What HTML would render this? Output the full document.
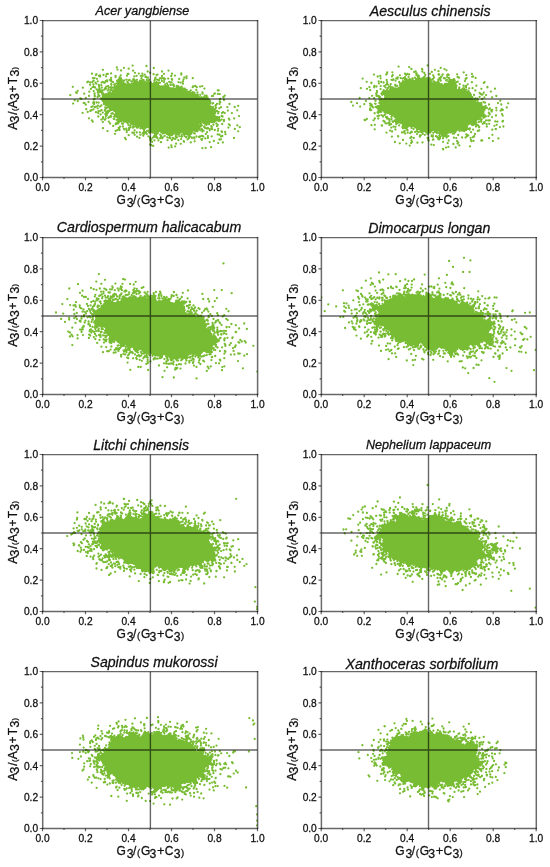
<!DOCTYPE html>
    <html><head><meta charset="utf-8"><title>scatter</title>
    <style>html,body{margin:0;padding:0;background:#fff;width:550px;height:867px;overflow:hidden}
    svg{display:block;font-family:"Liberation Sans",Arial,sans-serif}
    text{stroke:#111;stroke-width:.28px;fill:#111}</style></head>
    <body><svg width="550" height="867" viewBox="0 0 550 867">
    <defs><clipPath id="c0"><rect x="42.50" y="20.50" width="215.00" height="157.00"/></clipPath><clipPath id="c1"><rect x="321.20" y="20.50" width="215.00" height="157.00"/></clipPath><clipPath id="c2"><rect x="42.50" y="237.50" width="215.00" height="157.00"/></clipPath><clipPath id="c3"><rect x="321.20" y="237.50" width="215.00" height="157.00"/></clipPath><clipPath id="c4"><rect x="42.50" y="454.50" width="215.00" height="157.00"/></clipPath><clipPath id="c5"><rect x="321.20" y="454.50" width="215.00" height="157.00"/></clipPath><clipPath id="c6"><rect x="42.50" y="671.50" width="215.00" height="157.00"/></clipPath><clipPath id="c7"><rect x="321.20" y="671.50" width="215.00" height="157.00"/></clipPath></defs>
    <g clip-path="url(#c0)"><path d="M97.5 90.2L98.0 92.5L100.5 92.8L102.0 94.0L101.8 100.2L103.5 102.2L103.5 104.0L109.0 108.0L109.0 109.5L105.8 112.2L104.8 114.5L106.2 115.8L109.8 111.2L112.2 110.2L115.2 112.5L114.0 116.2L117.8 118.5L117.8 121.5L115.5 123.2L116.0 124.2L118.0 124.0L122.0 121.0L124.5 122.2L129.0 122.5L131.0 124.2L134.5 125.2L137.2 128.2L139.5 127.2L143.5 130.0L142.2 133.5L143.5 134.5L146.8 132.2L144.8 131.0L144.8 129.5L146.5 128.0L148.0 128.0L149.5 129.2L149.5 130.8L147.8 132.2L149.8 133.2L151.5 132.5L154.2 134.0L153.5 136.8L154.8 137.8L157.0 136.5L157.2 133.2L159.5 131.8L161.2 132.5L162.5 134.8L165.0 133.5L169.8 136.2L174.8 133.2L178.2 135.2L181.5 133.0L184.5 135.0L187.0 135.0L189.2 137.8L193.0 131.5L197.0 131.8L199.8 128.8L200.2 126.2L199.5 124.0L200.5 123.0L202.5 122.8L206.2 125.2L211.5 122.5L213.2 123.0L216.5 121.0L219.5 121.5L220.5 120.8L219.2 117.5L215.2 115.0L215.8 111.2L215.0 109.2L212.2 108.0L210.2 105.5L210.8 101.2L207.8 98.2L206.8 95.5L205.2 95.2L202.2 97.2L199.8 96.8L197.8 94.2L195.2 93.8L193.8 92.0L191.2 92.2L187.2 91.0L185.2 88.5L181.2 88.0L178.2 85.8L175.2 88.0L171.0 88.2L167.8 85.8L160.2 85.8L158.8 84.5L158.8 83.0L156.8 81.8L152.5 83.2L148.2 81.5L144.0 81.5L141.5 80.0L138.2 81.5L135.5 80.0L132.2 83.5L130.2 84.0L128.2 83.0L126.2 84.0L122.0 81.5L121.5 78.0L120.0 77.2L118.0 79.8L116.8 84.8L113.5 87.2L114.2 90.5L111.0 92.8L109.2 92.0L105.2 94.2L102.5 92.2L102.8 90.2L99.5 89.0Z" fill="#78bc33"/><path transform="scale(.1)" d="M1335 842h0m31 414h0m28 123h0m-345-432h0m392 379h0m264-476h0m-681 139h0m961 273h0m-107-344h0m157 311h0m-1012-233h0m825-109h0m-5-113h0m75 545h0m-812-413h0m755 467h0m-924-378h0m1071 238h0m-1031-150h0m644-302h0m-393 422h0m493-320h0m-425-36h0m-218 59h0m-48 281h0m285-346h0m-242 291h0m871-206h0m-968 46h0m114-38h0m224-119h0m424 76h0m-754 71h0m78-76h0m580-87h0m-586 386h0m50-25h0m85-369h0m492 79h0m278 79h0m-983-136h0m838 537h0m168-380h0m-227 357h0m-620-139h0m441-347h0m97 26h0m-61-81h0m-447 413h0m-117-1h0m983 168h0m-588-75h0m775-162h0m-176-243h0m108 244h0m-212 201h0m-652-529h0m-161 119h0m-149 2h0m743 428h0m-263-29h0m181-501h0m-203-20h0m-337 289h0m873 210h0m-212 49h0m-690-300h0m1100 213h0m-836-470h0m20 27h0m-134 383h0m-142-126h0m964 187h0m-372-428h0m-588 26h0m919 121h0m138 241h0m-1152-197h0m522-196h0m609 439h0m-1045-328h0m403-115h0m-448 393h0m-82-284h0m1048 42h0m-841 135h0m-187-87h0m874 311h0m-757-269h0m752-273h0m-595 410h0m-97-358h0m-8 31h0m211 427h0m-200-425h0m198-54h0m485 12h0m213 434h0m-928-397h0m-54 210h0m617-218h0m-346 382h0m492-357h0m-111-131h0m240 190h0m-47-19h0m-64 487h0m-172-79h0m-350-497h0m294 22h0m-370-60h0m126 472h0m220-474h0m581 236h0m-684-208h0m-438 277h0m101-265h0m861 403h0m-971-205h0m-52-126h0m1108 378h0m-65-71h0m113-89h0m-364-258h0m-430-69h0m740 427h0m-824-436h0m356 528h0m120-462h0m-480-11h0m564 30h0m-141 466h0m-37-18h0m-615-330h0m132 129h0m680 215h0m-322-17h0m285-500h0m196 405h0m-872-312h0m283-138h0m-371 252h0m383 301h0m-412-428h0m70 272h0m223 64h0m-126-8h0m841 157h0m-743-159h0m5-493h0m706 521h0m162-171h0m-544-218h0m167 472h0m-808-449h0m372-99h0m-164 506h0m274-475h0m699 474h0m-1110-352h0m-1 69h0m699-133h0m-137-56h0m516 392h0m-523-354h0m-529 257h0m298 141h0m610-309h0m32 273h0m-1011-347h0m556-82h0m219 61h0m135 479h0m-761-171h0m-68-355h0m506 518h0m-447-71h0m-149-95h0m459 131h0m847-53h0m-775 209h0m-243-226h0m-41 11h0m336-415h0m-328 391h0m422-351h0m511 316h0m-1075-8h0m588-288h0m-596 47h0m614-44h0m-580 208h0m374 234h0m-329-90h0m627-363h0m-155-2h0m-452 307h0m928 102h0m-1178-370h0m200 189h0m-1 0h0m665-224h0m46 17h0m18-111h0m-753 319h0m-197 2h0m1204-142h0m-1117-195h0m925 106h0m-367 484h0m193 33h0m379-317h0m-1114-148h0m165-94h0m324-5h0m-476 110h0m-29-174h0m475-46h0m-229 502h0m402-429h0m649 465h0m41 127h0m-1200-274h0m-108-142h0m986 435h0m266-123h0m-1005-436h0m726 425h0m-1124-448h0m859 569h0m-205-547h0m16-52h0m-636 314h0m355-344h0m18 44h0m-272 300h0m-80-294h0m80 19h0m18 163h0m546-139h0m-722 197h0m1359 113h0m-161 118h0m-518-598h0m-346 606h0m151-20h0m122-606h0m476 715h0m249-164h0m-706-399h0m323 626h0m283-195h0m-649 95h0m19-572h0m377 646h0m-217-652h0m-149 548h0m-42-27h0m749-33h0m-1122-433h0m495 556h0m24-625h0m-661 323h0m1217 19h0m-1238-171h0m587-140h0m-607 45h0m118 134h0m293-119h0m-137 313h0m580 230h0m-699-562h0m-66 19h0m1241 185h0m-102 41h0m-762 266h0m299-1h0m557-289h0m-956 250h0m873-221h0m-1031-206h0m-78 246h0m25 111h0m1150-315h0m-252 18h0m-803 210h0m511-268h0m294-82h0m74 581h0m-309 16h0m-478-583h0m748 103h0m-311-55h0m-322 433h0m-360-489h0m1412 270h0m-194 132h0m-1057-368h0m972 197h0m107 53h0m-1182-102h0m1089 393h0m-891-557h0m375 576h0m-200-575h0m-356 221h0m151 273h0m-183-105h0m1169 235h0m-181-565h0m-768-42h0m522 70h0m-910 138h0m1149 255h0m-927-211h0m275-249h0m229-30h0m453 519h0m-984-289h0m-116-207h0m-15 69h0m593 556h0m-291-740h0m1015 460h0m-953-347h0m949 422h0m-771-419h0m-391-12h0m12-6h0m136-22h0m472 72h0m-628 220h0m633-367h0m-66 103h0m-509 63h0m295-55h0m-209-42h0m-182 280h0m-211-70h0m746 365h0m511-104h0m-1125-153h0m-121-104h0m938 475h0m390-255h0m-1031-320h0m-132 168h0m1078 423h0m125-192h0m47 136h0m-693-682h0m277-7h0m-951 357h0m749 264h0m-206-72h0m503 140h0m-967-402h0m779-285h0m-370-9h0m738 282h0m-1169 193h0m582-476h0m-664 302h0m1306-90h0m-461-153h0m-685 113h0m960 411h0m145-298h0m-920-210h0m-479 150h0m666-154h0m476 543h0m-899-560h0m1252 214h0m-893 264h0m163 80h0m685-222h0m-1198-291h0m631-27h0m-424 72h0m1133 169h0m-752-214h0m631 377h0m46 117h0m-1238-190h0m-35-177h0m1293 47h0m-786-231h0m146 540h0m-371-44h0m-115-417h0m578-30h0m-402 481h0m-262-395h0m974 44h0m-949 193h0m855-238h0m490 369h0m-264-24h0m-399-401h0m396 185h0m-116 223h0m-298 217h0m538-130h0m-279-398h0m-26 357h0m-189 136h0m-673-221h0m-97-352h0m105 61h0m69 238h0m946 309h0m-852-79h0m839-90h0m-1038-143h0m356-353h0m819 168h0m137 128h0m-302 184h0m-94 14h0m-131 60h0m-799-465h0m874 485h0m-765-621h0m-70 301h0m-19 79h0m1040-68h0m-718-336h0m423 655h0m-191-676h0m328 620h0m-798 3h0m1044 57h0m-620-13h0m242-14h0m-348-568h0m580 157h0m299 113h0m-1421-198h0m936 497h0m-609-529h0m1089 344h0m-323 111h0m-918-60h0m636 103h0m-460-516h0m-246 350h0m-18-320h0m1005 403h0m-515 150h0m546-169h0m-386-371h0m100 20h0m414 459h0m-231 69h0m-1017-632h0m418 567h0m-247-548h0m-323 108h0m1231 326h0m-1080-171h0m1147-90h0m-634 326h0m638-20h0m-1090-521h0m36 184h0m50 168h0m-233-173h0m318 296h0m441-451h0m-175 16h0m0-37h0m-465 305h0m443 282h0m527-483h0m-755 357h0m1017-139h0m-926 238h0m29-522h0m620 574h0m-478-55h0m-372-576h0m651 610h0m-434-517h0m662 551h0m-837-449h0m664-75h0m-97 540h0m414-408h0m127 202h0m-393-303h0m-713 275h0m757 172h0m-933-306h0m764 324h0m197-440h0m-895 148h0m90-5h0m685 285h0m17-557h0m-237-13h0m644 430h0m-960-528h0m-83 93h0m637 591h0m260 22h0m-36-94h0m302-159h0m-1148-324h0m337 18h0m-203 449h0m465 100h0m-486-123h0m417 129h0m-615-485h0m238 432h0m-181-138h0m1055-248h0m-480 457h0m-351-73h0m-221-425h0m-138 85h0m483-186h0m230-1h0m424 306h0m49 68h0m-628 167h0m-569-419h0m78 391h0m755-475h0m-896 9h0m154 30h0m810 491h0m-275-43h0m443-366h0m97 278h0m-1006 8h0m893-5h0m-1148-413h0m1267 285h0m-949 125h0m390 187h0m613-62h0m-309-24h0m-549-78h0m-29 11h0m-86 110h0m251-5h0m13 21h0m-386-518h0m414 484h0m588-402h0m-685-142h0m-165 18h0m-149 301h0m-146-24h0m1094 267h0m-1151-162h0m790-427h0m-427 489h0m575-516h0m428 434h0m-762 262h0m741-388h0m-1353-334h0m-43 382h0m291-446h0m279 657h0m12-504h0m379 518h0m-935-235h0m1246-176h0m-1259 26h0m1289-20h0m-291 435h0m-286-27h0m183-525h0m339 400h0m-1089-473h0m968 554h0m-107-384h0m-812 197h0m553-334h0m-524 383h0m1048-88h0m-756-271h0m769 365h0m-1118-284h0m445 497h0m151-521h0m344 506h0m191-465h0m-128 435h0m-567-17h0m-126-564h0m1024 403h0m-1564-32h0m895-333h0m-693 330h0m802-313h0m138 59h0m23 498h0m-1133-391h0m-30-102h0m503-170h0m-281 390h0m572 286h0m-638-440h0m-51 81h0m1283 291h0m-1455-391h0m354 213h0m1094 257h0m-315-476h0m153 46h0m-1099 1h0m871 399h0m156-51h0m149-278h0m-179 301h0m-533-70h0m589-3h0m53-22h0m-30 241h0m-46-526h0m-803-260h0m-397 314h0m1432 355h0m-1099-524h0m499 524h0m-882-497h0m1056-3h0m-723 1h0m1132 331h0m-1045-337h0m1103 459h0m-1305-328h0m386-194h0m-254-58h0m1053 483h0m-1142-370h0m-1-4h0m80 304h0m1127 195h0m-816-71h0m742 16h0m-404-469h0m-172-16h0m-520 199h0m688 447h0m-660-510h0m912 422h0m-540-608h0m-257 77h0m-278 349h0m1483 71h0m-904 19h0m496-405h0m-89 526h0m-333-559h0m-266-97h0m294 635h0m465-66h0m-597-16h0m-96-527h0m142 60h0m-14-46h0m342-32h0m54 152h0m147 73h0m165 229h0m-395 202h0m-723-639h0m149 449h0m51 2h0m767 147h0m-239-21h0m-228-509h0m679 369h0m-393 136h0m-201 24h0m-356-70h0m342-420h0m-476 294h0m429 240h0m-242-603h0m-248 309h0m655-354h0m-487 530h0m-183-349h0m1159 275h0m-60 96h0m-205-385h0m-918 125h0m-57-294h0m485 609h0m-454-81h0m1049 79h0m-360 41h0m-474-106h0m468-535h0m468 372h0m167 156h0m-322-352h0m253 169h0m-1099 119h0m869 53h0m-1005-449h0m713 537h0m-359-42h0m-348-439h0m137 394h0m1061-322h0m-99 249h0m-333-340h0m-821 24h0m434 394h0m201 47h0m-606-388h0m-139 77h0m1318-32h0m-1075-84h0m417 499h0m594 7h0m48-292h0m-1073-302h0m574 66h0m-198 423h0m-539-430h0m67 2h0m290 348h0m586-308h0m-930-175h0m565 634h0m60-550h0m-68 593h0m639-369h0m-891 253h0m-105-161h0m523 334h0m-480-722h0m433-16h0m-145 581h0m-489-175h0m559-393h0m-531 252h0m123 306h0m283 9h0m-329-539h0m1136 350h0m-763-305h0m746 298h0m-504-274h0m-549 349h0m-446-161h0m380-302h0m622 111h0m284 138h0m-783-156h0m-61-15h0m835 423h0m189-218h0m-43 41h0m-813-227h0m361-7h0m-707 134h0m1160 250h0m-58 213h0m-488-104h0m773-4h0m-1051-43h0m734-21h0m47 12h0m-1171-221h0m302 172h0m165-454h0m616 167h0m-1123-77h0m-154 155h0m331 126h0m594 244h0m-302-6h0m-341-669h0m83 104h0m-153-51h0m1275 217h0m55 219h0m-842-440h0m-24-11h0m676 298h0m-666 323h0m638-36h0m-394 22h0m-476-77h0m-241-144h0m327-435h0m149 640h0m-77-517h0m268 563h0m262 9h0m-940-310h0m376-256h0m562 546h0m-908-458h0m46 103h0m-257-78h0m1250 430h0m-5 32h0m10-530h0m-1045 106h0m-40-99h0m1199 228h0m-148 185h0m-37-422h0m-665 493h0m39-696h0m705 328h0" stroke="#78bc33" stroke-width="23.0" stroke-linecap="round" fill="none"/><path d="M150.40 20.50v157.00M42.50 99.00h215.00" stroke="#000" stroke-opacity="0.6" stroke-width="1.4"/></g>
<path d="M42.50 177.50v2.8M42.50 177.50h-2.8M64.00 177.50v1.6M42.50 161.80h-1.6M85.50 177.50v2.8M42.50 146.10h-2.8M107.00 177.50v1.6M42.50 130.40h-1.6M128.50 177.50v2.8M42.50 114.70h-2.8M150.00 177.50v1.6M42.50 99.00h-1.6M171.50 177.50v2.8M42.50 83.30h-2.8M193.00 177.50v1.6M42.50 67.60h-1.6M214.50 177.50v2.8M42.50 51.90h-2.8M236.00 177.50v1.6M42.50 36.20h-1.6M257.50 177.50v2.8M42.50 20.50h-2.8" stroke="#000" stroke-opacity="0.6" stroke-width="1.2" fill="none"/><path d="M42.00 20.60H258.10M42.00 177.50H258.10" stroke="#000" stroke-opacity="0.6" stroke-width="1.3" fill="none"/><path d="M42.70 20.00V178.00M257.60 20.00V178.00" stroke="#000" stroke-opacity="0.58" stroke-width="1.5" fill="none"/><g font-size="10.20" fill="#111" style="stroke-width:.38px"><text x="42.50" y="190.50" text-anchor="middle">0.0</text><text x="38.10" y="181.30" text-anchor="end">0.0</text><text x="85.50" y="190.50" text-anchor="middle">0.2</text><text x="38.10" y="149.90" text-anchor="end">0.2</text><text x="128.50" y="190.50" text-anchor="middle">0.4</text><text x="38.10" y="118.50" text-anchor="end">0.4</text><text x="171.50" y="190.50" text-anchor="middle">0.6</text><text x="38.10" y="87.10" text-anchor="end">0.6</text><text x="214.50" y="190.50" text-anchor="middle">0.8</text><text x="38.10" y="55.70" text-anchor="end">0.8</text><text x="257.50" y="190.50" text-anchor="middle">1.0</text><text x="38.10" y="24.30" text-anchor="end">1.0</text></g>
<text x="95.53" y="14.80" font-style="italic" font-size="12.59" fill="#111">Acer yangbiense</text><text fill="#111"><tspan x="116.50" y="204.40" font-size="12.0">G</tspan><tspan x="126.70" y="206.70" font-size="12.2">3</tspan><tspan x="133.10" y="204.40" font-size="12.0">/</tspan><tspan x="137.00" y="205.00" font-size="9.6">(</tspan><tspan x="141.10" y="204.40" font-size="12.0">G</tspan><tspan x="149.60" y="206.70" font-size="12.2">3</tspan><tspan x="157.10" y="204.40" font-size="12.8">+</tspan><tspan x="164.70" y="204.40" font-size="12.0">C</tspan><tspan x="173.70" y="206.70" font-size="12.2">3</tspan><tspan x="180.90" y="205.00" font-size="9.6">)</tspan></text><text transform="translate(17.20 129.80) rotate(-90)" fill="#111"><tspan x="0.00" y="0.00" font-size="12.0">A</tspan><tspan x="7.40" y="1.70" font-size="12.2">3</tspan><tspan x="15.00" y="0.00" font-size="12.0">/</tspan><tspan x="18.90" y="0.00" font-size="7.5">(</tspan><tspan x="21.60" y="0.00" font-size="12.0">A</tspan><tspan x="29.70" y="1.70" font-size="12.2">3</tspan><tspan x="37.20" y="0.00" font-size="12.0">+</tspan><tspan x="45.50" y="0.00" font-size="12.0">T</tspan><tspan x="53.20" y="1.70" font-size="12.2">3</tspan><tspan x="60.20" y="0.00" font-size="7.5">)</tspan></text>
<g clip-path="url(#c1)"><path d="M376.2 106.8L377.9 109.5L377.2 112.5L378.2 113.2L382.7 111.2L392.2 115.5L394.4 115.5L395.4 116.5L395.4 119.0L393.9 121.0L396.7 123.8L398.9 123.0L401.4 123.8L402.4 124.8L401.9 127.2L403.2 128.5L406.2 129.0L409.2 126.5L411.9 127.2L413.7 126.5L416.9 129.8L419.4 130.2L421.2 132.8L424.2 132.0L427.4 133.8L429.2 133.0L430.4 133.5L432.4 137.2L433.4 135.8L430.7 133.8L431.7 131.2L433.2 130.8L435.9 132.5L438.2 131.5L439.4 132.0L440.9 135.5L437.7 137.8L437.7 139.0L438.9 140.0L441.9 136.5L446.2 136.5L447.9 133.0L452.9 132.2L454.9 133.0L458.7 129.0L464.4 131.5L468.2 129.0L467.4 125.8L469.9 124.0L472.7 125.8L475.2 124.8L476.7 123.2L476.7 121.0L481.9 117.0L483.9 118.0L486.2 116.5L483.9 114.0L483.9 111.5L486.4 107.8L486.2 106.5L482.9 105.8L480.7 102.5L478.7 103.0L476.7 102.2L472.9 98.8L472.9 97.0L471.2 95.2L470.7 93.2L468.9 91.5L466.9 91.0L464.2 88.0L459.4 90.2L456.7 88.5L456.7 85.5L454.2 79.0L450.2 79.2L447.9 83.0L442.9 84.5L439.7 83.2L437.7 81.2L435.4 82.5L432.7 82.5L429.9 78.5L427.4 79.8L423.9 76.8L420.7 78.0L418.2 75.0L416.9 75.8L417.2 78.0L414.2 80.2L409.4 78.8L407.7 79.5L404.4 77.0L403.4 77.8L404.4 80.8L399.4 83.8L399.7 86.5L398.4 87.8L394.4 88.0L391.2 86.8L388.4 90.2L383.4 90.5L380.9 93.8L384.7 95.8L384.4 98.0L382.9 99.2L380.9 99.0L379.2 100.0L379.9 104.2Z" fill="#78bc33"/><path transform="scale(.1)" d="M3816 987h0m112 161h0m187 109h0m364 73h0m-79 8h0m-587-340h0m728 337h0m-692-385h0m394-163h0m-89 475h0m-351-241h0m659-215h0m-46 36h0m-660 196h0m487-309h0m57 71h0m408 158h0m-24-46h0m-705 316h0m-48-342h0m750 404h0m4-367h0m-638-136h0m-94 71h0m-32 295h0m192 107h0m-61 21h0m619 81h0m91-331h0m-197-174h0m276 366h0m-928-30h0m215-402h0m-218 87h0m311 447h0m-414-464h0m709 457h0m-601-442h0m208-85h0m-9 582h0m806-202h0m-1040-325h0m-102 227h0m73-94h0m871 267h0m-711-411h0m114 427h0m51 55h0m-193-426h0m-57 324h0m539 161h0m219-467h0m-733 264h0m187 207h0m298-20h0m400-182h0m-339-346h0m-540 59h0m-166 86h0m81-156h0m9 58h0m671-39h0m-626 46h0m457-69h0m-380 38h0m-177 80h0m624-96h0m-732 212h0m1131 104h0m-892 57h0m591-407h0m-691 172h0m120-202h0m-110 25h0m224-56h0m-288 16h0m92 448h0m695-316h0m-738 253h0m919-111h0m-807 131h0m410-344h0m-562 171h0m88 141h0m1012-29h0m-541-278h0m379 514h0m-481-559h0m-478 281h0m-70-104h0m624-141h0m-524 440h0m950-271h0m-911 186h0m310 169h0m-470-242h0m1135 14h0m-166 170h0m-855-280h0m1031 167h0m-977-47h0m1001-44h0m-115-94h0m-93 316h0m-335-3h0m-302-28h0m-180-150h0m566-349h0m386 416h0m-462-372h0m238 475h0m-548-58h0m204 106h0m-198-526h0m397-67h0m-312 534h0m778-146h0m-230 211h0m-15-441h0m203 160h0m-537 249h0m194 10h0m-751-253h0m370-261h0m549 480h0m-721-401h0m420 418h0m-243-49h0m703-124h0m-836-379h0m1 124h0m487-38h0m231 408h0m-136 103h0m-447-59h0m499-409h0m-532 450h0m563-78h0m-759-367h0m121-60h0m566 47h0m-423 399h0m342-472h0m250 428h0m-799-337h0m-120 101h0m820-97h0m-515 376h0m20 40h0m215-516h0m-397 86h0m574-56h0m-847 218h0m943-254h0m265 183h0m-387 467h0m-643-249h0m586 240h0m414-49h0m-984-540h0m834 520h0m-334-683h0m406 539h0m-46 39h0m-491 69h0m141-474h0m-471 354h0m792 162h0m-308 122h0m270-558h0m-261-150h0m407 439h0m-307 156h0m385-29h0m-827 108h0m431-119h0m-371-623h0m-422 489h0m133-463h0m-119 508h0m1333-215h0m-1480 33h0m1074 285h0m102-99h0m-103 32h0m-693 81h0m241-669h0m126 2h0m16 619h0m602-69h0m-969-368h0m106 499h0m688-113h0m67-103h0m-904 105h0m156 161h0m7-109h0m-280-416h0m853 21h0m-96-25h0m-475 519h0m-409-319h0m932 210h0m-614-27h0m312-509h0m-486 459h0m444-495h0m-513 385h0m698 346h0m-400-665h0m234-85h0m-30 687h0m-238-634h0m571 603h0m4-483h0m167 412h0m-362 79h0m-529-77h0m103-78h0m810-189h0m-900 129h0m1154-93h0m-312-296h0m-389 584h0m-146-573h0m743 313h0m-573 291h0m643-129h0m-1073-40h0m858-234h0m-185-134h0m-734 45h0m928 336h0m69-95h0m-869 103h0m712-296h0m-194 370h0m-759-209h0m1243 99h0m-854-451h0m207 631h0m-337-80h0m177-518h0m257-48h0m138 561h0m-812-414h0m194-52h0m454 520h0m-290-609h0m418 677h0m-817-562h0m46 250h0m431-340h0m418 83h0m230 187h0m-614 335h0m560-359h0m-1210-235h0m773 600h0m100-578h0m-492-27h0m386 54h0m-5 3h0m398 354h0m-53 59h0m-405 102h0m522-326h0m-390 449h0m31-696h0m-17 59h0m181 25h0m-23 442h0m164-378h0m-520-274h0m515 563h0m-1097-346h0m1083 154h0m-908 144h0m338 148h0m535-325h0m-1010 82h0m965 221h0m331-196h0m-168 104h0m-138-435h0m-686 58h0m-288 359h0m-80 5h0m608 152h0m-414-596h0m227 55h0m-168 81h0m408-91h0m-320 65h0m-253 151h0m317-267h0m-222 171h0m1112 167h0m-1035-326h0m556 62h0m-534 74h0m46-5h0m850-62h0m-157 100h0m-53 380h0m-244-556h0m315 200h0m-51 430h0m-553-572h0m360 533h0m487-449h0m-1030-123h0m-227 217h0m392-213h0m-131 445h0m-252-311h0m45 231h0m962 266h0m-567-679h0m352 72h0m-200 532h0m-508-365h0m794-53h0m-23 568h0m-357-120h0m-180-29h0m51-51h0m-296-113h0m55 4h0m568 210h0m-563-165h0m-89-79h0m-138-249h0m135-22h0m200 305h0m-168-204h0m609-154h0m194 10h0m-877 220h0m262-254h0m502-80h0m-296 587h0m20-531h0m510 524h0m-265 84h0m131-72h0m-170-516h0m-332 657h0m52-33h0m-263-446h0m959 249h0m112 91h0m-515-491h0m-514 433h0m-27-117h0m819 121h0m131-297h0m-661-139h0m406 574h0m-147-50h0m-845-299h0m507 295h0m-407-439h0m721 442h0m-325-539h0m781 282h0m-523 293h0m313-642h0m-862 338h0m640-298h0m194 135h0m-315-121h0m303 63h0m181 157h0m-459-202h0m-404 2h0m549 538h0m510-119h0m-1260-386h0m773 574h0m351-576h0m-963 82h0m817-28h0m-953-137h0m1096 328h0m47 130h0m-947 63h0m1025-112h0m-892 140h0m694-33h0m-235-462h0m347 74h0m-1075 96h0m-269 86h0m1206 352h0m-1022-581h0m235 593h0m366-59h0m669 23h0m-833-65h0m-328-373h0m17-35h0m200-132h0m-250 378h0m910 306h0m19-641h0m-235 539h0m-678-578h0m1008 105h0m-1168 312h0m1307 14h0m-995-14h0m-191-249h0m838-53h0m-854 138h0m-28 31h0m31-59h0m595-181h0m654 180h0m-354-196h0m243 427h0m-1099-209h0m966 237h0m-890-430h0m1075 422h0m-765-484h0m395 522h0m439-251h0m-972 228h0m72 97h0m-83 30h0m-247-215h0m923 193h0m203-462h0m-693 405h0m-253-79h0m849-80h0m-589 159h0m-51-523h0m634 142h0m7 465h0m105-290h0m-1156-181h0m53 218h0m138-306h0m508-8h0m361 567h0m-613-52h0m629-426h0m-12 19h0m48-78h0m-1015-20h0m328 473h0m566-417h0m-572-149h0m446 140h0m-314 551h0m364-603h0m109 378h0m-858-420h0m21 370h0m-353-191h0m1302 224h0m-673 220h0m-128-171h0m181-455h0m107-53h0m544 666h0m-1153-287h0m338 193h0m355-519h0m-646 128h0m506 436h0m443-356h0m-598 421h0m-273-286h0m650 181h0m19-503h0m-520-82h0m-214 88h0m492 542h0m-506-419h0m-120 136h0m157 41h0m852 197h0m-535-30h0m-137 29h0m-391-119h0m282 17h0m79-347h0m239 476h0m-394-431h0m260-227h0m476 87h0m332 321h0m-1153-190h0m564 420h0m479-300h0m-1169 14h0m329-182h0m-30 27h0m782 85h0m-872 7h0m447-188h0m-344 16h0m502 36h0m-504 358h0m-62-335h0m28 500h0m796 47h0m-928-600h0m1001 216h0m-394 325h0m382-351h0m-173 279h0m-213 95h0m-550-379h0m1016 61h0m-1189-241h0m639-18h0m460 458h0m-195-515h0m-533 532h0m632-7h0m-14-400h0m-63 586h0m-699-230h0m-67-305h0m-85-46h0m137 312h0m988 56h0m-137-477h0m-924 250h0m564 316h0m201 82h0m-795-326h0m148-363h0m539 621h0m354-151h0m-896 122h0m-124-313h0m767-103h0m399 61h0m-303-88h0m347 235h0m20 49h0m-522 169h0m455-34h0m-797-499h0m-390 287h0m767-288h0m142 563h0m-690-100h0m671-502h0m-956 350h0m513-414h0m124 145h0m16 529h0m396-120h0m-474 157h0m566-318h0m-929 79h0m642-289h0m338 212h0m-901 350h0m780-124h0m66-336h0m-988-99h0m529-162h0m-393 108h0m9 56h0m60-127h0m-158 115h0m357-74h0m-168-119h0m451 164h0m17 58h0m-585-106h0m-97 128h0m553 503h0m-471-531h0m996 404h0m-1138-37h0m76-3h0m-82-431h0m-65 473h0m329 9h0m675-292h0m-974-245h0m779 551h0m-530-530h0m753 239h0m-307-275h0m527 521h0m-1044-387h0m809-27h0m-954 264h0m-151-111h0m212 175h0m40 57h0m439 76h0m-580-393h0m182 287h0m-300-10h0m682 193h0m69-605h0m393 179h0m-73 281h0m-273-466h0m276 98h0m-85 5h0m-671 343h0m913-69h0m-720-425h0m310 629h0m101-72h0m-292 86h0m606-252h0m-739-350h0m739 316h0m-792-303h0m336 704h0m-196-719h0m-472 183h0m152 231h0m-74-328h0m603-170h0m346 582h0m-195 37h0m-1083-290h0m441 275h0m870-305h0m-1010-54h0m-25-102h0m942 462h0m-949-165h0m550-377h0m-85 14h0m494 471h0m-871-6h0m924-197h0m-173 338h0m-880-392h0m193-189h0m118 543h0m-337-84h0m-11-195h0m557 266h0m315 113h0m292-171h0m-701-532h0m-277 495h0m195 33h0m-172 15h0m932-177h0m-999 117h0m1170-124h0m-1030-426h0m822 522h0m37 42h0m-720-446h0m98-68h0m444 65h0m-789 351h0m609-383h0m243 623h0m-401 25h0m44-25h0m607-341h0m-1108-307h0m326 643h0m521-628h0m-875 412h0m732-381h0m449 445h0m-1154-321h0m381-144h0m-415 153h0m90-29h0m-62 452h0m607-554h0m120 530h0m-254 149h0m523-500h0m159 190h0m-1039 221h0" stroke="#78bc33" stroke-width="23.0" stroke-linecap="round" fill="none"/><path d="M428.50 20.50v157.00M321.20 99.00h215.00" stroke="#000" stroke-opacity="0.6" stroke-width="1.4"/></g>
<path d="M321.20 177.50v2.8M321.20 177.50h-2.8M342.70 177.50v1.6M321.20 161.80h-1.6M364.20 177.50v2.8M321.20 146.10h-2.8M385.70 177.50v1.6M321.20 130.40h-1.6M407.20 177.50v2.8M321.20 114.70h-2.8M428.70 177.50v1.6M321.20 99.00h-1.6M450.20 177.50v2.8M321.20 83.30h-2.8M471.70 177.50v1.6M321.20 67.60h-1.6M493.20 177.50v2.8M321.20 51.90h-2.8M514.70 177.50v1.6M321.20 36.20h-1.6M536.20 177.50v2.8M321.20 20.50h-2.8" stroke="#000" stroke-opacity="0.6" stroke-width="1.2" fill="none"/><path d="M320.70 20.60H536.80M320.70 177.50H536.80" stroke="#000" stroke-opacity="0.6" stroke-width="1.3" fill="none"/><path d="M321.40 20.00V178.00M536.30 20.00V178.00" stroke="#000" stroke-opacity="0.58" stroke-width="1.5" fill="none"/><g font-size="10.20" fill="#111" style="stroke-width:.38px"><text x="321.20" y="190.50" text-anchor="middle">0.0</text><text x="316.80" y="181.30" text-anchor="end">0.0</text><text x="364.20" y="190.50" text-anchor="middle">0.2</text><text x="316.80" y="149.90" text-anchor="end">0.2</text><text x="407.20" y="190.50" text-anchor="middle">0.4</text><text x="316.80" y="118.50" text-anchor="end">0.4</text><text x="450.20" y="190.50" text-anchor="middle">0.6</text><text x="316.80" y="87.10" text-anchor="end">0.6</text><text x="493.20" y="190.50" text-anchor="middle">0.8</text><text x="316.80" y="55.70" text-anchor="end">0.8</text><text x="536.20" y="190.50" text-anchor="middle">1.0</text><text x="316.80" y="24.30" text-anchor="end">1.0</text></g>
<text x="369.71" y="15.50" font-style="italic" font-size="14.23" fill="#111">Aesculus chinensis</text><text fill="#111"><tspan x="395.20" y="204.40" font-size="12.0">G</tspan><tspan x="405.40" y="206.70" font-size="12.2">3</tspan><tspan x="411.80" y="204.40" font-size="12.0">/</tspan><tspan x="415.70" y="205.00" font-size="9.6">(</tspan><tspan x="419.80" y="204.40" font-size="12.0">G</tspan><tspan x="428.30" y="206.70" font-size="12.2">3</tspan><tspan x="435.80" y="204.40" font-size="12.8">+</tspan><tspan x="443.40" y="204.40" font-size="12.0">C</tspan><tspan x="452.40" y="206.70" font-size="12.2">3</tspan><tspan x="459.60" y="205.00" font-size="9.6">)</tspan></text><text transform="translate(295.90 129.80) rotate(-90)" fill="#111"><tspan x="0.00" y="0.00" font-size="12.0">A</tspan><tspan x="7.40" y="1.70" font-size="12.2">3</tspan><tspan x="15.00" y="0.00" font-size="12.0">/</tspan><tspan x="18.90" y="0.00" font-size="7.5">(</tspan><tspan x="21.60" y="0.00" font-size="12.0">A</tspan><tspan x="29.70" y="1.70" font-size="12.2">3</tspan><tspan x="37.20" y="0.00" font-size="12.0">+</tspan><tspan x="45.50" y="0.00" font-size="12.0">T</tspan><tspan x="53.20" y="1.70" font-size="12.2">3</tspan><tspan x="60.20" y="0.00" font-size="7.5">)</tspan></text>
<g clip-path="url(#c2)"><path d="M92.8 310.2L95.5 317.2L95.5 319.8L93.8 322.0L95.0 324.0L94.2 327.8L95.5 328.8L99.0 326.5L104.2 327.2L105.2 328.2L104.8 332.2L109.5 336.5L109.0 342.2L111.0 343.2L115.2 340.5L120.2 344.0L120.2 346.5L118.0 348.0L116.0 347.8L116.0 349.5L118.5 350.5L120.5 347.0L123.5 346.8L125.8 344.8L128.0 346.2L128.0 347.8L125.8 349.2L124.8 348.8L123.2 350.8L123.8 351.8L126.2 351.8L128.5 349.0L131.8 347.5L133.2 348.0L134.5 350.8L136.8 352.5L140.2 349.5L145.8 353.8L144.8 356.2L145.8 357.5L147.2 356.8L147.2 354.8L150.0 353.0L155.2 356.2L158.0 355.8L161.2 358.0L163.5 355.0L166.0 354.8L170.2 358.5L170.2 360.0L171.2 360.8L174.2 359.0L176.8 360.2L180.0 358.0L182.2 359.2L184.0 358.5L186.2 359.5L188.0 357.8L188.0 355.5L191.2 353.5L193.8 354.8L196.0 354.5L198.8 357.0L200.8 355.8L200.8 354.0L203.2 351.8L204.5 351.5L207.0 353.0L211.8 352.5L212.5 346.2L219.2 341.0L219.2 340.0L216.2 337.8L215.0 335.5L213.2 335.8L211.0 334.2L210.5 330.5L212.0 329.2L214.5 329.0L213.5 324.8L212.0 325.2L209.8 328.8L207.5 329.0L206.0 327.8L206.8 324.5L205.2 323.0L203.8 317.8L201.5 315.5L196.8 316.8L193.5 314.8L191.2 311.8L188.0 313.8L185.2 312.2L183.5 304.8L186.0 302.0L184.2 300.8L180.8 301.5L176.8 300.0L174.8 302.5L173.0 303.0L170.0 301.2L169.5 298.8L167.0 298.8L164.2 296.8L162.0 300.8L157.5 301.0L154.8 299.0L155.8 296.0L154.0 295.0L150.8 297.0L149.0 296.2L146.0 298.2L140.2 296.5L137.8 298.0L134.2 295.2L134.2 293.8L136.0 292.0L134.2 290.5L133.2 291.2L134.2 295.0L133.0 296.2L126.8 298.0L123.2 296.0L122.2 296.8L122.2 299.8L119.5 301.5L117.8 301.0L115.0 302.8L111.0 300.2L111.0 298.8L114.5 296.5L115.0 294.5L114.0 293.8L107.8 299.8L105.5 299.8L104.2 300.8L104.2 303.2L99.8 308.2L95.8 310.5L93.8 309.5Z" fill="#78bc33"/><path transform="scale(.1)" d="M1212 3438h0m-314-190h0m1283-42h0m-184 353h0m-480-26h0m-69 35h0m-269-151h0m-163-146h0m186-322h0m728 585h0m-978-516h0m989 90h0m-182 477h0m-31 49h0m-595-687h0m552 612h0m-739-346h0m591 381h0m-93-610h0m709 517h0m-536 55h0m299-482h0m124 34h0m-1068 162h0m-118-64h0m755 373h0m390 8h0m-44-461h0m-951 135h0m833-227h0m93 54h0m-52 486h0m209-402h0m-204 369h0m17 36h0m-804-165h0m42-413h0m876 528h0m37-20h0m84-256h0m-337 322h0m312-89h0m-194-347h0m157 60h0m-367 398h0m277-21h0m-482-52h0m-565-379h0m686-160h0m-388 1h0m24-79h0m519 677h0m123-11h0m187-268h0m-145-140h0m-233-126h0m-419 448h0m-32 7h0m-313-386h0m721-106h0m479 357h0m-690-370h0m96 568h0m162-524h0m143 555h0m227-309h0m-389 291h0m-148-568h0m492 561h0m-1089-428h0m165 332h0m871-303h0m140 321h0m3-239h0m39 150h0m-543-385h0m220 116h0m18 22h0m-826 246h0m855-254h0m-480 418h0m-317-164h0m824-267h0m216 357h0m-630 39h0m-10 28h0m-129-33h0m-63-40h0m834 5h0m-870-22h0m-215-154h0m478 235h0m-44-565h0m540 537h0m-952-159h0m1012-116h0m115-7h0m-1284-11h0m156 110h0m1143-81h0m-832-264h0m-331 372h0m1085-89h0m-474 299h0m-94-15h0m-287-82h0m-375-342h0m26-15h0m658-168h0m394 137h0m54 124h0m147 194h0m-1214 29h0m1163-84h0m-1126-310h0m468 540h0m-233-69h0m683-354h0m131 106h0m-131 295h0m-389-597h0m-574 250h0m95 162h0m22-357h0m963 205h0m-158-100h0m-249 425h0m629-272h0m-1204 31h0m152 165h0m628-383h0m-364 517h0m391-456h0m-456 346h0m624-314h0m13 65h0m-447 317h0m523-258h0m-45-9h0m-1038 40h0m923-223h0m-865 255h0m269 153h0m-330-249h0m1059 10h0m-429 307h0m-632-325h0m413 303h0m486 32h0m-839-176h0m78 39h0m1186-135h0m-1414-185h0m631 419h0m487-311h0m-765 228h0m-35 33h0m333 77h0m259-438h0m95 421h0m-815-39h0m-323-339h0m1295 153h0m-689-358h0m359 624h0m-70-6h0m-304-641h0m727 482h0m-1013-425h0m467-3h0m-627 189h0m707-231h0m-310-153h0m939 633h0m-1031 71h0m554-505h0m-982 250h0m1301 231h0m-1160-191h0m997-159h0m173 179h0m-1088 86h0m1048 251h0m-1180-489h0m530-188h0m-403 16h0m1128 393h0m-750 187h0m126 4h0m-21 3h0m682 112h0m-605-148h0m-249-613h0m-33-39h0m698 704h0m-17-442h0m-487 385h0m117 42h0m-488-67h0m809 145h0m-419-87h0m482-19h0m-490-623h0m-390-38h0m234 8h0m356 9h0m-33 69h0m105 655h0m-793-325h0m161-292h0m-338 139h0m1143 3h0m-207-192h0m-1023 76h0m1424 278h0m-1267-35h0m1191 227h0m-503-516h0m575 306h0m-502-310h0m798 288h0m-1138 293h0m794-354h0m-19 44h0m-31-33h0m-176 336h0m-229-7h0m-977-684h0m236 310h0m14-65h0m345 415h0m-161-548h0m951 211h0m-1174-103h0m1381 7h0m-391 513h0m-699-655h0m-110-45h0m-326 243h0m46 49h0m1457-29h0m-1426 71h0m331 142h0m1052-89h0m35 205h0m-429 76h0m-407-56h0m-247-514h0m51-8h0m729 60h0m-82-15h0m242 443h0m-1081 19h0m-105-214h0m-181-168h0m1504 369h0m-512 108h0m-721-556h0m-11 283h0m831 233h0m-482-70h0m-296-197h0m1122 90h0m-1084-402h0m560 549h0m-1044-358h0m518-192h0m778 542h0m253-328h0m-1146 256h0m147 14h0m228 71h0m-447-328h0m1025 312h0m-777-40h0m1154 48h0m-171-267h0m-1298-104h0m78 36h0m364-257h0m-257 354h0m1062-19h0m-985 241h0m243-27h0m484 106h0m-568-77h0m-116-36h0m1177-174h0m-453-207h0m-1087 184h0m1267-181h0m-105 436h0m-442-620h0m-526-15h0m-312 408h0m243-216h0m1261 496h0m-971-150h0m-244-145h0m1169-89h0m-986-256h0m-77 418h0m1153 2h0m-280 161h0m-1120-321h0m110 42h0m479 267h0m44 97h0m253 12h0m259-40h0m-785-174h0m690-416h0m-1092 195h0m1162-29h0m212-27h0m-1331-34h0m600-156h0m721 359h0m188 134h0m-881-537h0m-429 484h0m265 120h0m-135-523h0m982 632h0m-718-95h0m806-98h0m-1123-409h0m635-21h0m-286-63h0m202 644h0m266-501h0m-603-170h0m-195 503h0m-385-354h0m584 425h0m-254 20h0m462-531h0m-345 452h0m-143-425h0m-65 8h0m-5-57h0m476 614h0m298 77h0m199 134h0m-483-84h0m-201-147h0m785-354h0m-601 331h0m-506-253h0m370 188h0m845-167h0m-1220-9h0m-4 51h0m90 86h0m231 150h0m-148-712h0m946 660h0m-651-645h0m-182 568h0m-243-357h0m558-80h0m517 541h0m-1059-232h0m20-257h0m-213 107h0m385 312h0m-241-170h0m740 326h0m-977-186h0m1373-137h0m-885-436h0m71 704h0m503-578h0m-729 320h0m-101-68h0m856 346h0m-428 68h0m-469-578h0m1010 474h0m-1038-353h0m827 390h0m-472-86h0m950 116h0m-916-168h0m1051-90h0m-1457-336h0m387 472h0m511-505h0m-358 514h0m797-210h0m-102 25h0m-1224-276h0m1055-5h0m-467 506h0m533-9h0m-1105-238h0m407 385h0m-260-812h0m862 252h0m-16-60h0m-853-34h0m867 90h0m-46 1h0m-734 281h0m720-403h0m309 547h0m-1429-283h0m53 107h0m1154 246h0m84-64h0m-1246-437h0m185-181h0m291-34h0m-29 20h0m613-6h0m48 56h0m454 497h0m-1431-181h0m541 216h0m-33 154h0m-715-475h0m991 357h0m-714-569h0m242 582h0m262-574h0m-191 506h0m636-405h0m102 84h0m-729 314h0m722-333h0m-1073 162h0m964 216h0m-720-24h0m69 33h0m640 65h0m161-97h0m-434 58h0m167-554h0m-655-64h0m1089 521h0m-102 47h0m0-154h0m-1144-297h0m427-146h0m-143 546h0m-354-295h0m21 95h0m654 288h0m466-2h0m-88 2h0m-929-265h0m871-270h0m485 400h0m-189-199h0m-14-22h0m-54-133h0m-193 546h0m-600-641h0m198-9h0m465 196h0m-1020-103h0m-143 38h0m604-116h0m508 193h0m-579 418h0m-271-166h0m-273-148h0m1336 174h0m-1334-543h0m1242 802h0m-278-67h0m98-587h0m-175-84h0m-38 624h0m-784-249h0m1057-183h0m494 72h0m-1265 248h0m437-523h0m-598 331h0m1127-12h0m-1037 217h0m-34-521h0m-512 150h0m778-221h0m831 77h0m-1068-88h0m1162 195h0m-1073 335h0m986-8h0m-1316-280h0m1086 29h0m265 178h0m-408-354h0m160 185h0m-1225-76h0m164 258h0m63-354h0m974 540h0m-499-22h0m-253-66h0m895-216h0m-205-123h0m-933-59h0m793-96h0m130 625h0m121 40h0m-411-38h0m439-63h0m-1026-172h0m206-327h0m1031 141h0m-639-206h0m-152 561h0m-507-453h0m985 536h0m-821-607h0m984 671h0m124-285h0m-1175-415h0m-5 16h0m120-33h0m578 4h0m453 178h0m-1159-294h0m472 690h0m339-514h0m-681 18h0m201-149h0m321 682h0m-617-301h0m275 257h0m277-605h0m-711 464h0m31-239h0m1483 258h0m-680 194h0m-563-604h0m-425 65h0m974 524h0m481-262h0m-90-45h0m-65-74h0m-963 315h0m176-538h0m-151 381h0m1146 39h0m-403-327h0m474 173h0m-1500-157h0m395-218h0m29 594h0m28-475h0m622 99h0m-536 423h0m-76 120h0m-323-236h0m957-292h0m205 366h0m-1299-144h0m189 49h0m1143-358h0m105 438h0m-1233-164h0m883 285h0m200-429h0m19 429h0m-126-479h0m-383-139h0m-655 194h0m1182 159h0m-424-354h0m528 585h0m-1 46h0m-1304-522h0m916 521h0m303-208h0m-303 262h0m-89-685h0m527 321h0m-95 325h0m-1443-367h0m607 349h0m-385-508h0m402 456h0m605 39h0m-279 12h0m-496-121h0m832 158h0m86-352h0m150-61h0m-228 14h0m-230 368h0m-753-186h0m781-295h0m535 433h0m-74-103h0m-370-273h0m-233 413h0m-1014-394h0m1532 493h0m-578 37h0m-682-892h0m-340 225h0m59 275h0m1489-110h0m-150-79h0m-1181 22h0m1469 397h0m-1351-379h0m873-151h0m-1181 203h0m454-236h0m1254 269h0m-1123-289h0m-290 175h0m895-100h0m59 10h0m558 377h0m-298 39h0m-94-380h0m-7 429h0m96-63h0m-708-526h0m558 716h0m-942-169h0m1055 100h0m-676 0h0m54-602h0m-145 575h0m359 34h0m-829-589h0m1175 295h0m-115 372h0m-380-737h0m570 390h0m-896 232h0m-304-379h0m842 518h0m128-538h0m-856-92h0m236-103h0m345 825h0m-35-117h0m174-705h0m-239 608h0m401 28h0m-1184-404h0m171 143h0m971 222h0m-936-581h0m595 5h0m875 444h0m-654 273h0m-547-818h0m-585 266h0m507-170h0m164 507h0m463 130h0m-877-513h0m1504 337h0m-752-458h0m222 51h0m342 360h0m-812-401h0m387 28h0m-409 551h0m729-233h0m6 217h0m-500-613h0m-313 565h0m135 12h0m-669-484h0m62-65h0m1577 579h0m-1286-106h0m-106-70h0m891-219h0m-257 492h0m-585-259h0m500-414h0m-320 546h0m-286-232h0m1317-1h0m-78 136h0m-220-266h0m197 178h0m-92-226h0m-643-120h0m666 351h0m-1135-149h0m-39 22h0m1170-184h0m-800-91h0m190 610h0m632 67h0m-1334-759h0m1174 335h0m-446-220h0m-339 70h0m-117 236h0m276 268h0m422 165h0m-292-759h0m635 606h0m-1037-569h0m849 562h0m-1104-240h0m1286 388h0m-1141-571h0m1235 235h0m-924-399h0m-334 134h0m279-129h0m902 569h0m-1297-442h0m1242 426h0m-1333-160h0m1607 34h0m-1622-330h0m216 41h0m888 594h0m-906-578h0m2 154h0m846-225h0m405 190h0m102 232h0m-750 156h0m252 64h0m-793-321h0m1417 253h0m-1169-61h0m-274-658h0m1305 440h0m-854-396h0m766 491h0m-1261-260h0m1037 392h0m-1044-326h0m87-231h0m22 397h0m823-429h0m-156 665h0m63-600h0m-163 516h0m-228-587h0m-536 108h0m115-52h0m37 20h0m454-72h0m-731 23h0m1567 317h0m-407-229h0m-583-283h0m420 777h0m15-583h0m339-51h0m-564 25h0m-65 600h0m-364-210h0m812-251h0m-845-218h0m-114 358h0m-44-273h0m839 633h0m595-225h0m-1315-117h0m82-3h0m760 313h0m-654-72h0m800-359h0m-365-157h0m768 486h0m-318-479h0m20 102h0m-889 401h0m-43-467h0m-169 205h0m812 361h0m112-478h0m516 170h0m-1692 81h0m694-452h0m851 750h0m-1266-559h0m37 151h0m-289 108h0m102-69h0m-53 57h0m963 424h0m-427-799h0m-267 36h0m627 661h0m-715-427h0m-187-56h0m826-208h0m668 359h0m-1466-288h0m583 437h0m-511-451h0m1306 436h0m-631 107h0m899-25h0m-1111-86h0m911-319h0m204 259h0m-312-221h0m-6 179h0m-334-372h0m-580 21h0m984 493h0m-1195-498h0m1078 506h0m-1144-148h0m1187-114h0m-433-254h0m-744 126h0m1311 181h0m-546 324h0m-237-18h0m611-456h0m149 175h0m-1303-326h0m464 589h0m816-251h0m-487 248h0m148-534h0m-210 554h0m454-456h0m-820 345h0m784-514h0m-1029 369h0m827-455h0m-970-25h0m78 408h0m862-259h0m-864-40h0m432 620h0m-618-680h0m448 46h0m996 431h0m-1373-293h0m187-219h0m402 670h0m280-640h0m-277 716h0m873-130h0m-306-324h0m-347 453h0m-886-429h0m33 142h0m322-359h0m-88-93h0m187 18h0m-143 46h0m-9-38h0m112 19h0m138-28h0m-491 54h0m361-68h0m-254-4h0m169 131h0m-160 75h0m42-160h0m634 36h0m-615-64h0m15 40h0m66 64h0m148-111h0m-87 104h0m9-108h0m-252 193h0m545-138h0m-319-15h0m-171 114h0m373-149h0m-25-65h0m9 120h0m-128 26h0m14-201h0m-78 46h0m-73 126h0m129-71h0m147 32h0m-29 9h0m-27-93h0m-300 115h0m90 33h0m105-28h0m29 55h0m-67 22h0m53-21h0m223-143h0m-166 79h0m-251 127h0m511-116h0m-493-29h0m268 38h0m-15-28h0m-299-202h0m-46 311h0m259-167h0m-152-87h0m63 178h0m254-87h0m-190-5h0m-271 170h0m385-76h0m-168-9h0m3-92h0m99-39h0m-400 279h0m729-120h0m-312-24h0m-216 85h0m312-128h0m-354 163h0m369-114h0m2-11h0m-160 16h0m31-16h0m-79-29h0m-29-45h0m1117-260h0m-92 267h0m75 0h0m99 31h0m217 526h0m-105 225h0m144 33h0m-103-174h0" stroke="#78bc33" stroke-width="23.0" stroke-linecap="round" fill="none"/><path d="M150.40 237.50v157.00M42.50 316.00h215.00" stroke="#000" stroke-opacity="0.6" stroke-width="1.4"/></g>
<path d="M42.50 394.50v2.8M42.50 394.50h-2.8M64.00 394.50v1.6M42.50 378.80h-1.6M85.50 394.50v2.8M42.50 363.10h-2.8M107.00 394.50v1.6M42.50 347.40h-1.6M128.50 394.50v2.8M42.50 331.70h-2.8M150.00 394.50v1.6M42.50 316.00h-1.6M171.50 394.50v2.8M42.50 300.30h-2.8M193.00 394.50v1.6M42.50 284.60h-1.6M214.50 394.50v2.8M42.50 268.90h-2.8M236.00 394.50v1.6M42.50 253.20h-1.6M257.50 394.50v2.8M42.50 237.50h-2.8" stroke="#000" stroke-opacity="0.6" stroke-width="1.2" fill="none"/><path d="M42.00 237.60H258.10M42.00 394.50H258.10" stroke="#000" stroke-opacity="0.6" stroke-width="1.3" fill="none"/><path d="M42.70 237.00V395.00M257.60 237.00V395.00" stroke="#000" stroke-opacity="0.58" stroke-width="1.5" fill="none"/><g font-size="10.20" fill="#111" style="stroke-width:.38px"><text x="42.50" y="407.50" text-anchor="middle">0.0</text><text x="38.10" y="398.30" text-anchor="end">0.0</text><text x="85.50" y="407.50" text-anchor="middle">0.2</text><text x="38.10" y="366.90" text-anchor="end">0.2</text><text x="128.50" y="407.50" text-anchor="middle">0.4</text><text x="38.10" y="335.50" text-anchor="end">0.4</text><text x="171.50" y="407.50" text-anchor="middle">0.6</text><text x="38.10" y="304.10" text-anchor="end">0.6</text><text x="214.50" y="407.50" text-anchor="middle">0.8</text><text x="38.10" y="272.70" text-anchor="end">0.8</text><text x="257.50" y="407.50" text-anchor="middle">1.0</text><text x="38.10" y="241.30" text-anchor="end">1.0</text></g>
<text x="56.80" y="232.20" font-style="italic" font-size="14.19" fill="#111">Cardiospermum halicacabum</text><text fill="#111"><tspan x="116.50" y="421.40" font-size="12.0">G</tspan><tspan x="126.70" y="423.70" font-size="12.2">3</tspan><tspan x="133.10" y="421.40" font-size="12.0">/</tspan><tspan x="137.00" y="422.00" font-size="9.6">(</tspan><tspan x="141.10" y="421.40" font-size="12.0">G</tspan><tspan x="149.60" y="423.70" font-size="12.2">3</tspan><tspan x="157.10" y="421.40" font-size="12.8">+</tspan><tspan x="164.70" y="421.40" font-size="12.0">C</tspan><tspan x="173.70" y="423.70" font-size="12.2">3</tspan><tspan x="180.90" y="422.00" font-size="9.6">)</tspan></text><text transform="translate(17.20 346.80) rotate(-90)" fill="#111"><tspan x="0.00" y="0.00" font-size="12.0">A</tspan><tspan x="7.40" y="1.70" font-size="12.2">3</tspan><tspan x="15.00" y="0.00" font-size="12.0">/</tspan><tspan x="18.90" y="0.00" font-size="7.5">(</tspan><tspan x="21.60" y="0.00" font-size="12.0">A</tspan><tspan x="29.70" y="1.70" font-size="12.2">3</tspan><tspan x="37.20" y="0.00" font-size="12.0">+</tspan><tspan x="45.50" y="0.00" font-size="12.0">T</tspan><tspan x="53.20" y="1.70" font-size="12.2">3</tspan><tspan x="60.20" y="0.00" font-size="7.5">)</tspan></text>
<g clip-path="url(#c3)"><path d="M370.2 304.2L371.9 306.5L371.9 308.2L368.2 311.8L368.7 312.8L376.2 309.8L378.7 312.0L378.4 316.5L373.7 322.0L374.2 324.0L376.4 325.8L376.7 328.5L373.7 333.2L374.9 334.2L376.2 333.2L376.2 331.8L377.9 330.0L377.7 327.5L379.4 325.8L382.9 325.8L385.2 328.8L387.4 329.2L390.4 331.5L390.2 334.0L391.7 336.2L394.2 337.2L395.2 340.0L399.2 342.8L404.7 341.0L406.9 342.5L407.4 344.0L410.7 345.8L413.7 345.0L416.9 347.2L418.2 346.5L418.7 344.5L420.9 343.0L424.4 345.5L426.9 349.2L429.9 349.2L432.9 351.2L439.4 347.2L441.7 348.5L443.4 348.0L447.9 351.0L447.9 352.8L450.7 356.2L452.4 355.0L453.4 352.5L456.2 351.2L457.2 348.8L458.4 348.2L462.9 350.5L465.2 349.2L466.9 350.0L468.7 348.5L468.4 346.2L470.7 344.8L473.2 345.8L477.2 345.0L480.2 348.8L481.2 347.5L479.7 346.0L479.9 342.2L482.4 340.5L485.2 341.5L486.7 343.5L490.2 345.5L492.9 344.5L491.9 343.0L491.9 341.5L493.2 340.2L491.9 337.8L492.2 335.0L488.9 332.8L488.9 331.0L491.7 328.0L491.7 326.0L495.2 323.2L493.7 321.8L491.2 321.8L489.4 318.5L486.4 320.2L483.7 319.5L481.7 317.5L481.7 315.8L483.9 313.8L482.4 312.5L474.9 312.5L472.9 310.2L474.4 306.2L473.4 304.5L470.7 306.0L466.9 303.0L462.7 301.5L458.9 304.2L452.2 299.0L450.4 299.8L447.4 297.8L442.9 298.8L440.9 297.2L440.9 295.5L439.9 294.8L437.2 297.2L433.7 298.5L431.4 297.0L430.9 295.0L427.4 292.8L425.9 293.5L424.9 296.0L422.2 296.8L418.7 293.5L413.2 295.5L408.4 293.8L404.7 296.5L399.7 293.0L397.2 295.5L393.2 295.5L391.7 298.5L385.2 300.8L384.7 302.8L380.9 305.5L378.7 306.0L376.2 304.5L374.9 305.0L371.7 303.0Z" fill="#78bc33"/><path transform="scale(.1)" d="M3594 3271h0m311 70h0m359-405h0m-717 341h0m658 195h0m178 65h0m407-454h0m-1032 41h0m1088 77h0m98 30h0m-491-242h0m527 516h0m-19-317h0m-83 10h0m-281 416h0m-668-232h0m707-356h0m257 272h0m-90 170h0m-1117-273h0m838 352h0m209-34h0m-415-521h0m252 3h0m-800 267h0m395 200h0m777-246h0m-1226-181h0m1166 281h0m32-67h0m-687-336h0m253 74h0m-733 250h0m676-239h0m-633 118h0m273-169h0m-268 26h0m960 470h0m-579 24h0m217-537h0m-645 345h0m172 90h0m711 191h0m-61-21h0m-784-392h0m131 166h0m-73-20h0m843 167h0m-158-447h0m221 464h0m-984-323h0m-10 72h0m867-207h0m-813 46h0m100-68h0m838 32h0m-240 516h0m301-431h0m-1072 75h0m989-86h0m119 76h0m130 231h0m-1071-103h0m709-271h0m-429 455h0m175 27h0m155-512h0m523 322h0m-209-177h0m88 261h0m-981-423h0m556 527h0m273 68h0m-872-238h0m868-259h0m-182-36h0m-494-237h0m814 393h0m-1048 63h0m415 205h0m553-330h0m-995-136h0m-67 147h0m1 193h0m595-361h0m495 185h0m-442-227h0m476 259h0m-447 271h0m-191 43h0m-429-269h0m904 272h0m215-59h0m214-143h0m-555-303h0m-159 495h0m-501-546h0m-75 50h0m-131 198h0m67-401h0m-22 466h0m408-359h0m757 381h0m-252-312h0m-109 506h0m274-5h0m-626-63h0m-466-229h0m6-2h0m572-199h0m100 6h0m-724 161h0m482-228h0m125 45h0m-442 315h0m778 194h0m-698-90h0m601 146h0m-798-376h0m1203 221h0m-920-505h0m-190 405h0m947-245h0m-1148-66h0m331 457h0m206-482h0m-330 385h0m844-300h0m-490 432h0m537 63h0m-320-535h0m-727 117h0m1074 16h0m215 159h0m-1293-87h0m1158 207h0m60 33h0m-779-490h0m598 165h0m-879-106h0m139-111h0m-426 281h0m899 321h0m-738-419h0m1052 373h0m-393 79h0m567-390h0m-273-93h0m-1114 81h0m20-111h0m1526 272h0m-1445-75h0m1208-163h0m-881-116h0m-66 422h0m300 76h0m130-469h0m-287 464h0m-211-451h0m1094 437h0m-617-463h0m473 459h0m-554 89h0m733-37h0m-762-500h0m-398 80h0m65-48h0m221-32h0m592 21h0m-729 422h0m-228-165h0m1127-96h0m-1130-11h0m27-46h0m-8-30h0m766-124h0m-760 246h0m264-251h0m952 407h0m-879-377h0m-232 53h0m986 408h0m32-129h0m119 6h0m-190-152h0m30 321h0m-1126-254h0m36-166h0m153 484h0m992-173h0m-796-484h0m430 139h0m-635 295h0m145 120h0m172-460h0m725 305h0m-1132 85h0m-109-402h0m-94 122h0m535-126h0m-402 343h0m1044 131h0m140 142h0m-209-569h0m-89-35h0m-753-223h0m-236 355h0m67 95h0m-182-190h0m137 237h0m147-298h0m1427 446h0m-901-520h0m11 86h0m664 422h0m-395-374h0m-781 343h0m1216 129h0m-326 82h0m-1150-586h0m812 536h0m-750-342h0m1713 335h0m-1044 32h0m361-34h0m-969-454h0m591 449h0m187 34h0m-82 36h0m-291-114h0m916 87h0m-515 34h0m-204-605h0m-600 152h0m1106 285h0m-1090 9h0m1106-282h0m-663-203h0m1051 536h0m-624-413h0m-72-223h0m533 615h0m-1311-213h0m210-264h0m504 15h0m-495 432h0m790-383h0m246 547h0m-1121-140h0m33-567h0m1212 246h0m-394-40h0m252 252h0m-1188-148h0m1274 184h0m-460 131h0m-956-219h0m263 37h0m824-261h0m-864-43h0m1083 176h0m-389-160h0m-773 131h0m292-219h0m-47 538h0m564 10h0m-743 16h0m23-176h0m-110-345h0m813 71h0m-305 494h0m484 105h0m-1216-553h0m1461 337h0m-1190-452h0m-184 215h0m1315 272h0m-1500-186h0m1309-162h0m15-97h0m-853 383h0m903-244h0m-913 168h0m-155 2h0m-12-112h0m-151-107h0m614-227h0m920 220h0m-1572 195h0m1492 45h0m102 109h0m-995 18h0m80 23h0m697-435h0m-705 370h0m-702-196h0m1296 187h0m141-36h0m244 94h0m-1457-416h0m1182 360h0m-1126-522h0m-60 206h0m968 337h0m-1100-234h0m546 349h0m-167-606h0m61-157h0m261 735h0m-59-642h0m-714 396h0m1069-306h0m58 585h0m-1101-470h0m668 357h0m-10-21h0m640-337h0m-27 313h0m-408-403h0m-34-51h0m546 382h0m-1122 36h0m301 84h0m-381-350h0m122 357h0m209-618h0m631 193h0m-388-170h0m-80 94h0m98 639h0m666-44h0m-1459-264h0m1464-27h0m-272 185h0m-619 92h0m348-37h0m397-46h0m-82-462h0m-1035 334h0m771-373h0m-720 84h0m35 212h0m465 236h0m337 187h0m-87-161h0m496-92h0m261-297h0m-1527-197h0m118 420h0m1105 241h0m-1459-314h0m174-85h0m554-224h0m-182-77h0m752 642h0m-764-609h0m-579 302h0m1313 237h0m160-290h0m-1207-117h0m-47 268h0m585-378h0m-627 203h0m1357 265h0m129-20h0m-261 43h0m-476 44h0m-459-737h0m-249 488h0m1288-93h0m-320 345h0m-1124-316h0m351 131h0m140-380h0m1033 249h0m-686-383h0m-4 131h0m-164 675h0m-486-491h0m848-92h0m323 345h0m-945-485h0m13 586h0m1231-125h0m-1531-121h0m926-259h0m-766-41h0m809 615h0m322-545h0m-1209 263h0m815-249h0m350 245h0m-76 170h0m-1123-364h0m741 464h0m518 59h0m-658-61h0m342-18h0m32 56h0m-994-570h0m786 557h0m407-333h0m-422-257h0m-746 271h0m1062-145h0m136 334h0m-159-277h0m-30-16h0m189 78h0m-465-311h0m-576 720h0m-50-256h0m675 218h0m643-164h0m-946 67h0m-925-413h0m1013-90h0m-496 325h0m187 131h0m-25 160h0m-267-637h0m696 578h0m-326-42h0m-550-366h0m1414 247h0m-135-216h0m-1223 80h0m311 279h0m419-531h0m35-85h0m-756 34h0m869 624h0m-107-20h0m411-479h0m30-123h0m-1049 143h0m1097 339h0m-12 123h0m116-275h0m-145 194h0m226-222h0m-399 397h0m-1370-500h0m1818 275h0m-263 93h0m13 123h0m-1288-335h0m504 142h0m316 122h0m546-338h0m80-83h0m-1183 345h0m58-90h0m-284-129h0m1668 163h0m-1081 198h0m-138-649h0m-242 75h0m100-45h0m1013 333h0m-406-329h0m257 8h0m6 53h0m-177-24h0m-732-224h0m-48 467h0m20 86h0m448 120h0m-762-390h0m1239-22h0m-347 484h0m264-50h0m89-28h0m-556-519h0m-467 221h0m-42 152h0m333-376h0m665 551h0m252-261h0m-739 218h0m817-172h0m-1242-371h0m681 44h0m446 534h0m53-119h0m-1035 71h0m-175-229h0m415 236h0m-457-146h0m1017 227h0m-358-30h0m236-547h0m330 501h0m-815-496h0m937 402h0m-356 227h0m221-131h0m-662 45h0m-391-540h0m497 563h0m-515-519h0m1074 178h0m-574-233h0m363 536h0m-547 22h0m727-65h0m-255-434h0m-1048-99h0m-48 232h0m253 149h0m-22 50h0m1415-111h0m-956 249h0m-114-565h0m760 78h0m-1367 70h0m1310-61h0m-425-71h0m370 136h0m-818 289h0m-177-29h0m1060 88h0m127-51h0m-1468-323h0m341 283h0m954 195h0m-159-460h0m247 32h0m42 49h0m-141 427h0m202-25h0m-931-583h0m993 363h0m-644 167h0m649-55h0m-308 139h0m-386-641h0m114 72h0m490 242h0m-91-141h0m-1004-169h0m219 476h0m449-454h0m564 730h0m-1218-676h0m155-67h0m392-52h0m-584 388h0m-119-43h0m130 138h0m426-623h0m759 425h0m-1269-67h0m88-65h0m46 248h0m-34 17h0m-433-133h0m29-2h0m1209-287h0m-730-5h0m1021 266h0m-402-298h0m-127 112h0m598 186h0m-1259-171h0m136 365h0m-152-352h0m707 8h0m-290 473h0m545 101h0m-899-842h0m848 269h0m-952 51h0m1048 440h0m-768-613h0m17 91h0m1088 338h0m-1019-447h0m-338 583h0m1189-298h0m-877-173h0m64 483h0m850-135h0m-55-330h0m-916-50h0m224 554h0m-510-138h0m265 117h0m990-203h0m-693 260h0m-140-623h0m-892 74h0m615-77h0m246 53h0m-420 219h0m-12-50h0m735-273h0m417 634h0m-43-462h0m-79 5h0m-604 581h0m-360-822h0m225 173h0m1130 367h0m-1261-263h0m854-24h0m69 62h0m-1134 166h0m87-217h0m-68-108h0m654-12h0m660 302h0m-783-435h0m-20 152h0m-604 267h0m928 270h0m-790-354h0m982 362h0m-1192-380h0m1401-81h0m-415 541h0m-303 31h0m-316-233h0m60-352h0m470-135h0m646 367h0m-1388-28h0m853-393h0m419 314h0m197 357h0m-1460-112h0m1123-311h0m-852 245h0m833 120h0m-1006-593h0m371 615h0m-227-441h0m-409 43h0m1117-145h0m-646 580h0m525 34h0m708-342h0m-416 265h0m-997-184h0m1162-296h0m-1221 30h0m884 504h0m178 169h0m-714-719h0m-43 528h0m-223-495h0m284-51h0m-254 152h0m-181 112h0m645 253h0m-11-26h0m572-309h0m-761-263h0m883 226h0m11-51h0m-1230-47h0m990 584h0m569-180h0m-364-52h0m-85-163h0m53 293h0m-801-561h0m449 16h0m-965 229h0m-24 21h0m125-184h0m-53 208h0m919-205h0m-780 25h0m448-69h0m-476-123h0m1588 539h0m-283-75h0m-1198-314h0m871 552h0m-761-562h0m770 521h0m-822-193h0m233-451h0m-387-6h0m1121 364h0m156-22h0m-492-345h0m-805 331h0m843-141h0m-643-29h0m-124 379h0m148-411h0m-37 546h0m1368-227h0m-1805-207h0m1359 405h0m61-364h0m66 118h0m-1236-127h0m64 188h0m705-314h0m251 462h0m252-133h0m-601-350h0m625 370h0m-235 168h0m142-279h0m-597-271h0m591 536h0m120-62h0m-25 42h0m-1303-372h0m1226 343h0m-1063-130h0m250 147h0m-464-128h0m1066-264h0m476 453h0m-1259-524h0m-320 104h0m1235 354h0m-345 101h0m-703-726h0m727 161h0m-934 1h0m410 433h0m305 93h0m98-44h0m-573-176h0m23 65h0m822-313h0m537 473h0m-856-531h0m127 516h0m-105-31h0m-523-189h0m365-439h0m-586 280h0m947 423h0m-467-592h0m537 728h0m-853-621h0m-178-105h0m997 10h0m-77 597h0m334-442h0m-583-255h0m812 608h0m-1662-366h0m855 382h0m686-281h0m-1353-73h0m458 359h0m-187-191h0m-450-187h0m359 392h0m-52-345h0m123-283h0m801 849h0m102-649h0m-1061 196h0m1528-150h0m-1458-142h0m261-36h0m411 548h0m565-207h0m-909-338h0m445 15h0m388 567h0m166-336h0m-1062-319h0m144 41h0m-460 300h0m27 54h0m730-273h0m338 522h0m-1165-159h0m1158-195h0m-751 272h0m-434-238h0m636 323h0m637-246h0m-44-228h0m240 300h0m103-13h0m-357 136h0m-1431-573h0m425 60h0m964 174h0m-224-208h0m352 45h0m-124-13h0m89 489h0m-1115-104h0m192-413h0m247 663h0m-131-110h0m-201-516h0m-277-3h0m655-31h0m751 337h0m-1078-305h0m1019 458h0m-252-410h0m-1030 113h0m778-380h0m-746 347h0m187 285h0m976-227h0m-753 497h0m-203-768h0m-490 149h0m1486 349h0m19-89h0m-235 225h0m-812-511h0m-221-11h0m1263 170h0m-88-27h0m51 217h0m-352 179h0m235 115h0m-785-837h0m227 92h0m-400 438h0m800 159h0m-860-333h0m-135-125h0m732 446h0m-633-444h0m952-90h0m-1068-76h0m515 596h0m-769-411h0m944 486h0m-355-593h0m257-3h0m804 482h0m-1296-379h0m-37 55h0m729-126h0m-456 548h0m168-724h0m-133 673h0m-311-469h0m-14 2h0m1230 174h0m-557 353h0m-67-50h0m-694-291h0m1330-26h0m-55 28h0m-1137 164h0m1022 81h0m-1137-397h0m853 424h0m329-503h0m446 368h0m-1525-367h0m1259 138h0m-1301-305h0m85 521h0m-64-151h0m798 437h0m27-734h0m-756-14h0m268 548h0m782 42h0m-975-563h0m-258 463h0m1437-207h0m-1234 164h0m872-735h0m-149 32h0m213-6h0m-174 65h0m101 51h0m65 0h0m552 550h0m-49 204h0m60 53h0m81 175h0m-225 6h0m-170 110h0m-52-36h0" stroke="#78bc33" stroke-width="23.0" stroke-linecap="round" fill="none"/><path d="M428.50 237.50v157.00M321.20 316.00h215.00" stroke="#000" stroke-opacity="0.6" stroke-width="1.4"/></g>
<path d="M321.20 394.50v2.8M321.20 394.50h-2.8M342.70 394.50v1.6M321.20 378.80h-1.6M364.20 394.50v2.8M321.20 363.10h-2.8M385.70 394.50v1.6M321.20 347.40h-1.6M407.20 394.50v2.8M321.20 331.70h-2.8M428.70 394.50v1.6M321.20 316.00h-1.6M450.20 394.50v2.8M321.20 300.30h-2.8M471.70 394.50v1.6M321.20 284.60h-1.6M493.20 394.50v2.8M321.20 268.90h-2.8M514.70 394.50v1.6M321.20 253.20h-1.6M536.20 394.50v2.8M321.20 237.50h-2.8" stroke="#000" stroke-opacity="0.6" stroke-width="1.2" fill="none"/><path d="M320.70 237.60H536.80M320.70 394.50H536.80" stroke="#000" stroke-opacity="0.6" stroke-width="1.3" fill="none"/><path d="M321.40 237.00V395.00M536.30 237.00V395.00" stroke="#000" stroke-opacity="0.58" stroke-width="1.5" fill="none"/><g font-size="10.20" fill="#111" style="stroke-width:.38px"><text x="321.20" y="407.50" text-anchor="middle">0.0</text><text x="316.80" y="398.30" text-anchor="end">0.0</text><text x="364.20" y="407.50" text-anchor="middle">0.2</text><text x="316.80" y="366.90" text-anchor="end">0.2</text><text x="407.20" y="407.50" text-anchor="middle">0.4</text><text x="316.80" y="335.50" text-anchor="end">0.4</text><text x="450.20" y="407.50" text-anchor="middle">0.6</text><text x="316.80" y="304.10" text-anchor="end">0.6</text><text x="493.20" y="407.50" text-anchor="middle">0.8</text><text x="316.80" y="272.70" text-anchor="end">0.8</text><text x="536.20" y="407.50" text-anchor="middle">1.0</text><text x="316.80" y="241.30" text-anchor="end">1.0</text></g>
<text x="368.20" y="232.70" font-style="italic" font-size="14.18" fill="#111">Dimocarpus longan</text><text fill="#111"><tspan x="395.20" y="421.40" font-size="12.0">G</tspan><tspan x="405.40" y="423.70" font-size="12.2">3</tspan><tspan x="411.80" y="421.40" font-size="12.0">/</tspan><tspan x="415.70" y="422.00" font-size="9.6">(</tspan><tspan x="419.80" y="421.40" font-size="12.0">G</tspan><tspan x="428.30" y="423.70" font-size="12.2">3</tspan><tspan x="435.80" y="421.40" font-size="12.8">+</tspan><tspan x="443.40" y="421.40" font-size="12.0">C</tspan><tspan x="452.40" y="423.70" font-size="12.2">3</tspan><tspan x="459.60" y="422.00" font-size="9.6">)</tspan></text><text transform="translate(295.90 346.80) rotate(-90)" fill="#111"><tspan x="0.00" y="0.00" font-size="12.0">A</tspan><tspan x="7.40" y="1.70" font-size="12.2">3</tspan><tspan x="15.00" y="0.00" font-size="12.0">/</tspan><tspan x="18.90" y="0.00" font-size="7.5">(</tspan><tspan x="21.60" y="0.00" font-size="12.0">A</tspan><tspan x="29.70" y="1.70" font-size="12.2">3</tspan><tspan x="37.20" y="0.00" font-size="12.0">+</tspan><tspan x="45.50" y="0.00" font-size="12.0">T</tspan><tspan x="53.20" y="1.70" font-size="12.2">3</tspan><tspan x="60.20" y="0.00" font-size="7.5">)</tspan></text>
<g clip-path="url(#c4)"><path d="M92.8 541.8L93.8 543.5L97.2 541.5L99.2 542.2L101.5 544.5L100.5 548.0L103.5 551.0L107.5 548.2L113.8 551.8L113.8 553.2L112.2 554.5L110.0 554.2L108.0 555.2L105.5 554.5L104.0 555.8L105.0 557.5L108.2 556.8L111.8 557.2L114.0 556.2L116.5 557.5L119.8 556.8L124.2 560.2L125.0 563.0L128.2 564.2L132.5 563.5L135.2 565.5L136.0 567.5L140.8 569.2L142.8 571.5L145.0 570.5L147.0 571.5L149.5 570.8L152.8 573.5L154.2 572.5L153.8 568.2L157.2 566.2L161.2 567.8L164.5 570.8L167.8 569.5L170.2 572.0L173.0 571.0L174.0 571.5L176.5 568.8L180.8 567.2L183.0 568.8L182.5 572.8L183.8 573.5L185.2 572.2L185.2 570.2L190.0 566.0L197.5 564.8L199.8 566.2L200.5 568.0L203.8 568.5L204.8 570.5L206.5 571.2L207.5 569.8L203.2 567.8L201.5 563.0L204.8 560.5L207.5 562.0L210.2 560.5L212.2 561.5L215.2 560.8L215.2 557.0L216.2 555.5L214.2 553.2L214.2 551.5L216.5 548.8L219.0 547.8L217.8 546.2L215.2 547.5L213.0 547.0L211.8 544.2L209.5 542.8L208.8 539.5L211.0 538.0L213.8 539.8L214.2 541.8L216.2 542.8L217.5 541.8L215.2 537.8L212.0 538.0L209.2 536.0L210.2 533.5L209.5 532.0L207.2 532.5L204.0 530.2L202.0 531.0L199.8 529.8L198.0 530.0L196.5 528.8L197.0 526.2L195.5 525.0L192.2 527.5L188.0 526.0L185.5 527.5L182.5 526.5L180.2 524.5L180.2 522.2L177.8 520.8L175.2 517.2L172.5 519.2L170.2 519.0L168.0 520.2L165.5 518.5L163.0 519.5L160.8 518.8L158.2 516.2L155.5 516.2L152.5 513.5L152.5 512.0L151.5 511.2L147.0 514.0L142.8 512.8L142.0 514.0L143.2 515.2L143.2 517.0L139.8 519.2L135.8 517.2L133.8 517.8L130.8 515.8L131.0 512.5L130.0 511.8L125.8 517.8L123.5 519.2L120.0 518.0L116.2 514.8L116.2 512.8L114.5 512.2L114.0 513.2L116.8 515.5L116.8 517.5L115.0 519.8L111.2 519.5L108.0 522.2L105.2 522.0L102.8 520.0L101.2 521.0L102.5 525.8L99.2 528.8L99.5 531.0L98.5 532.0L99.8 533.8L100.0 536.5L97.2 541.0Z" fill="#78bc33"/><path transform="scale(.1)" d="M1259 5146h0m-22 436h0m861-328h0m-126 448h0m-855-214h0m7 77h0m1182-61h0m-1218 94h0m13-117h0m-132-8h0m55-265h0m-45 48h0m967 2h0m163 187h0m-1089-8h0m312-335h0m-287 83h0m748 484h0m-766-86h0m109-68h0m263-312h0m-304-37h0m1013 538h0m-44-372h0m-350 385h0m-767-350h0m308-177h0m340 519h0m491-109h0m-174-316h0m-704-88h0m590 30h0m71 51h0m240 436h0m-876-135h0m-66-395h0m-164 246h0m561 230h0m399-17h0m-182 29h0m-874-318h0m626 379h0m-594-342h0m473-265h0m421 127h0m-715 242h0m416 211h0m-540-289h0m927-133h0m275 201h0m-831-296h0m-307 355h0m562-346h0m226 36h0m-750-91h0m733 133h0m426 299h0m-958 57h0m255-460h0m170 26h0m459 332h0m-1206-236h0m324-126h0m-182 34h0m264-4h0m339-40h0m-505-25h0m534 568h0m-592-491h0m638 38h0m-556 428h0m952-45h0m-1221-274h0m8-16h0m363 332h0m715-343h0m-1059 24h0m4-25h0m277-172h0m-304 256h0m47-153h0m1094 137h0m-383-210h0m-612 334h0m672-390h0m-721 66h0m1018 127h0m-955 268h0m700-314h0m-668-79h0m715 54h0m-87-29h0m-614 346h0m-108-387h0m707 495h0m-596-578h0m179 82h0m-414 237h0m723-260h0m-383 509h0m-479-245h0m218-186h0m82-59h0m-191 83h0m749-128h0m291 577h0m-892-483h0m145-68h0m810 509h0m-920-154h0m-23-27h0m84 105h0m-233-174h0m-72-182h0m1020 445h0m-15-463h0m-836 42h0m255-87h0m408 35h0m406 141h0m-1090-34h0m830-44h0m-710 291h0m-135-113h0m750 258h0m519-272h0m-632 254h0m132-3h0m-565-101h0m415 127h0m349-454h0m142 399h0m-973-449h0m94-11h0m203 0h0m-68-42h0m650 524h0m-671-539h0m307 59h0m285 504h0m-981-290h0m658 254h0m-359-78h0m568-314h0m-261 390h0m-146-471h0m-300 11h0m-78 34h0m197 342h0m659-356h0m-568 406h0m635-395h0m-267 533h0m364-103h0m-963-143h0m979 84h0m-567-467h0m342 133h0m263 174h0m-17-162h0m-722-173h0m199 26h0m264 78h0m-803 264h0m635-283h0m-660 129h0m651-134h0m-243 549h0m-671-306h0m439-269h0m971 426h0m-794 143h0m812-23h0m-17-161h0m-997-437h0m1064 462h0m-761-437h0m726 321h0m-1338 41h0m148-114h0m698 442h0m15-8h0m-687-605h0m512-62h0m329 85h0m281 149h0m-598 334h0m-465-225h0m345-391h0m-502 404h0m798 231h0m271-507h0m-461-174h0m-263 125h0m-457 334h0m1361-41h0m-207 176h0m-678-612h0m300 128h0m-844 115h0m651-80h0m734 419h0m-810 91h0m-454-246h0m142-177h0m790 407h0m-427-529h0m120 536h0m348 6h0m-745-678h0m-76 397h0m444 283h0m-600-416h0m338 371h0m-55-122h0m-203-244h0m161 298h0m675-413h0m-564 481h0m-358-283h0m1423 75h0m-918-345h0m-399 313h0m363 260h0m-400-369h0m21 12h0m176 236h0m450-490h0m141 634h0m-610-178h0m-352-91h0m1447 223h0m-512-522h0m285 123h0m128 118h0m105 283h0m-1290-364h0m535-190h0m26 639h0m393-685h0m-685 581h0m184-471h0m646 110h0m-994 260h0m-87-354h0m1253 216h0m-1118 160h0m409 141h0m701-160h0m-1283-277h0m963 446h0m-161-513h0m396 181h0m27-18h0m259 185h0m-54-87h0m-648-267h0m467 339h0m-762-348h0m-288-87h0m221 558h0m-254-41h0m118-564h0m-195 399h0m179 206h0m-141-448h0m477 500h0m-45-672h0m-418 129h0m-207 261h0m1459 237h0m-687 54h0m-291-569h0m-492 323h0m1468-45h0m-1227 143h0m917 66h0m-1029-484h0m-15 112h0m998 377h0m-973-407h0m1027 52h0m267 482h0m157-153h0m-214-144h0m-433-302h0m-579-12h0m420-25h0m-671 178h0m348 373h0m967-186h0m-1444-47h0m260 33h0m1127-133h0m-1193-34h0m919-49h0m-1009-83h0m48 85h0m-12 164h0m1070 231h0m-613-493h0m-431 20h0m-212 35h0m745-109h0m318 99h0m-812 154h0m211-214h0m-125-18h0m1008 243h0m-702-238h0m662 518h0m-443-503h0m-397 29h0m267-111h0m-306 483h0m1095-187h0m-1141 165h0m-2-394h0m1077 537h0m-216-505h0m-94 485h0m-887-328h0m-266 116h0m270 146h0m1021 23h0m-597-450h0m157 639h0m-700-368h0m-55-45h0m784-204h0m256 483h0m-581-48h0m965-292h0m75 66h0m-1169-210h0m-65-175h0m4 533h0m943 94h0m-697-456h0m-250 411h0m204-452h0m-534 47h0m429-1h0m-103 354h0m115-372h0m-421 278h0m1362 140h0m-1120-400h0m76 541h0m752-537h0m-856 402h0m719-441h0m-131 518h0m637-356h0m-1234 271h0m185-425h0m308-106h0m-759 275h0m314-299h0m1110 344h0m-1061 160h0m-149 15h0m179-352h0m1207 258h0m-256 278h0m192-157h0m41-41h0m-724 209h0m617-153h0m-186-282h0m-1132 197h0m1263 18h0m-807-425h0m314 596h0m-354-583h0m346 32h0m-628 278h0m277-420h0m862 596h0m-26-161h0m-588-288h0m-180-16h0m-218-36h0m548 593h0m-539-157h0m-142-445h0m-92 117h0m1250 498h0m-1181-588h0m1110 561h0m-568 91h0m249-558h0m150 64h0m-796 288h0m-90-353h0m-134 277h0m-16-248h0m375 384h0m907-304h0m-1142 174h0m81-1h0m591-295h0m-68 553h0m668-255h0m-132 5h0m-1190-258h0m269 365h0m1066 17h0m-610-514h0m-931 9h0m232 54h0m258-3h0m593 108h0m153-38h0m-800-120h0m236-20h0m627 508h0m76-205h0m-164 386h0m-656-164h0m205 56h0m275-425h0m488 233h0m-1000 270h0m-429-594h0m494 477h0m579-457h0m-128 479h0m-622-85h0m-158-361h0m31 459h0m749 119h0m-41-43h0m-284-720h0m-174 135h0m562 507h0m365-245h0m-586-235h0m84 523h0m-755-274h0m-167-181h0m1375 93h0m-1359-49h0m351 360h0m-443-350h0m1124 427h0m-54-570h0m-901 146h0m478 354h0m139 17h0m-355-130h0m-27-436h0m503 49h0m-379 449h0m806-293h0m-197 362h0m-1002-489h0m-84 49h0m-20-78h0m350 19h0m381 592h0m497-135h0m-759-667h0m345 181h0m-719 391h0m1285-57h0m-1247 63h0m14-180h0m501 316h0m-385-80h0m176-51h0m1021-182h0m-276-121h0m487 390h0m-755-526h0m-14 586h0m-627-490h0m1194 405h0m-1249-232h0m1169 21h0m-1000-223h0m964 163h0m-204 315h0m11 70h0m-998-436h0m78-286h0m509 700h0m-222-621h0m-289 378h0m273 155h0m870-77h0m84-232h0m-635-132h0m231 505h0m-910-257h0m1211 69h0m-51 98h0m-85 104h0m-315-511h0m-659 249h0m1316 122h0m-848-451h0m256 625h0m-787-532h0m7 415h0m217-458h0m892 556h0m-661-531h0m714 177h0m-532 288h0m596-291h0m-201 346h0m-538-639h0m-203 544h0m848-249h0m-1047-200h0m-235 118h0m1166-36h0m-476-135h0m627 120h0m-66 423h0m187-58h0m-1198-528h0m466 48h0m297 122h0m-172-189h0m226 201h0m-99 443h0m-802-279h0m1122-94h0m-1091 136h0m1060-179h0m58 186h0m-984 162h0m385 84h0m137-583h0m402 605h0m-1166-420h0m229 199h0m598-395h0m-137-20h0m142 638h0m-757-459h0m96 397h0m-209-328h0m46 108h0m-233-101h0m508 256h0m939-8h0m-370 83h0m177-35h0m-920-583h0m665 72h0m-425-73h0m851 274h0m-653 425h0m-426-494h0m1005 400h0m119-270h0m-117 260h0m-580 44h0m-293-140h0m230-518h0m116 676h0m641-443h0m-1029 338h0m404-500h0m-721 178h0m1090-36h0m-760 408h0m-203-379h0m158 274h0m-301-60h0m373 127h0m295-496h0m-367 70h0m1162 220h0m-920 240h0m-278-113h0m263-429h0m-214 621h0m1000-496h0m-1103 311h0m453-416h0m866 418h0m-98 74h0m-369 89h0m542-338h0m-703 336h0m-835-538h0m1215 105h0m144-93h0m-21 213h0m-373 333h0m271-517h0m-620-167h0m-178 16h0m286 618h0m-480-56h0m152-48h0m471-387h0m-410-42h0m963 329h0m-687-399h0m-613 543h0m248-63h0m-280-390h0m300 471h0m-248-119h0m78 81h0m980 217h0m-1057-267h0m65-76h0m-95-34h0m947-186h0m172 439h0m-823-116h0m729-325h0m-1050 46h0m772-122h0m-100 473h0m452-364h0m217 366h0m-113 98h0m-470-70h0m71 36h0m-392-592h0m-291 13h0m20 405h0m765 124h0m-613-84h0m-2-560h0m-39 118h0m625 36h0m-682 341h0m746 302h0m-447-754h0m395 109h0m303 296h0m-719-296h0m737 283h0m225 22h0m-1149 131h0m-427-127h0m1500 59h0m-1122 82h0m143-461h0m-623 165h0m927 478h0m-207-793h0m-194-40h0m856 384h0m-631-270h0m-507 276h0m606-277h0m-793 175h0m654 436h0m-482-222h0m-81 29h0m1073 128h0m197-210h0m-568 221h0m316-529h0m-97 78h0m407 360h0m-181 64h0m18-428h0m322 463h0m-933-506h0m-103-82h0m75 88h0m258 563h0m-348-62h0m817-216h0m-795 220h0m477-422h0m403 101h0m-1070-317h0m216 662h0m356 42h0m268 11h0m-597-70h0m574-442h0m-1078 26h0m254 386h0m-245-180h0m259 122h0m932 17h0m95 20h0m-9-216h0m108-28h0m-647 286h0m-489-115h0m826-341h0m-1136 127h0m124-177h0m1257 282h0m-799-290h0m-142 446h0m-148 58h0m416-537h0m260 30h0m-868 340h0m496-429h0m-408 86h0m-125 380h0m1163-223h0m20-53h0m-938-126h0m164 8h0m389 630h0m-608-88h0m1056-28h0m23-159h0m-981-425h0m471 632h0m-391-13h0m665 80h0m-610-69h0m752-2h0m-696-29h0m635 37h0m-841-569h0m-83 359h0m-52 206h0m501-696h0m-578 341h0m-9 229h0m516 166h0m602-612h0m-1298 203h0m978-207h0m-661 431h0m886 185h0m200-341h0m-826-321h0m-212 29h0m-339 202h0m1079-130h0m-264 10h0m545 417h0m-10 31h0m-211-408h0m-842 442h0m-185-193h0m811 236h0m-361-75h0m273-439h0m-508-171h0m-109 533h0m830-433h0m-220-71h0m33 143h0m-265-200h0m703 310h0m-889 316h0m-215-501h0m495 577h0m-45-562h0m-531-10h0m1076 24h0m-77 53h0m-814 21h0m996-5h0m-574 607h0m115-120h0m-648-279h0m832-304h0m-954 181h0m947 499h0m481-103h0m-371-466h0m-58 458h0m151-390h0m-248 404h0m-793-439h0m945-38h0m-680 335h0m107-388h0m691 82h0m133 215h0m-159 307h0m-839-686h0m296 78h0m-294 542h0m-186-33h0m825-12h0m-624-543h0m-242 151h0m112 222h0m1047-84h0m-1012 195h0m964-301h0m-817-232h0m688 728h0m-950-760h0m1138 722h0m-215-100h0m-1025-360h0m1357 200h0m-1286-73h0m545-338h0m903 499h0m-174 36h0m-959 74h0m276-591h0m-363 19h0m871 524h0m43 45h0m-1188-287h0m1435 211h0m-105-250h0m-1042 239h0m553 123h0m302-543h0m-1152 210h0m1183 298h0m24-70h0m-1290-327h0m742 394h0m592-488h0m-1184 56h0m1236 203h0m-348 328h0m407-220h0m-102 56h0m167-65h0m-258-437h0m-307 564h0m423-139h0m-360-333h0m343 102h0m-1206 261h0m505-464h0m-555 176h0m765 493h0m-659-435h0m1101 59h0m157 37h0m-281 205h0m-762 24h0m566-9h0m-191-605h0m542 580h0m-1003-514h0m-96 466h0m1140-165h0m-912 157h0m1176-8h0m-1169-527h0m866 278h0m-579-198h0m806 573h0m-66-125h0m-195-224h0m-608-266h0m-438 392h0m458-473h0m-61 68h0m-349 490h0m306 104h0m-537-489h0m309-11h0m1007 328h0m-765-487h0m-46 166h0m-359 90h0m-105 230h0m961 287h0m307-496h0m22 195h0m-122 200h0m-491 55h0m-558-279h0m-17-316h0m26 346h0m1058 137h0m-823-594h0m376 770h0m186-84h0m-437 82h0m-263-134h0m112-580h0m769 556h0m-593-453h0m-191-66h0m290-94h0m489 258h0m361-310h0m103 653h0m89 231h0m-5 144h0m22 52h0m0 23h0" stroke="#78bc33" stroke-width="23.0" stroke-linecap="round" fill="none"/><path d="M150.40 454.50v157.00M42.50 533.00h215.00" stroke="#000" stroke-opacity="0.6" stroke-width="1.4"/></g>
<path d="M42.50 611.50v2.8M42.50 611.50h-2.8M64.00 611.50v1.6M42.50 595.80h-1.6M85.50 611.50v2.8M42.50 580.10h-2.8M107.00 611.50v1.6M42.50 564.40h-1.6M128.50 611.50v2.8M42.50 548.70h-2.8M150.00 611.50v1.6M42.50 533.00h-1.6M171.50 611.50v2.8M42.50 517.30h-2.8M193.00 611.50v1.6M42.50 501.60h-1.6M214.50 611.50v2.8M42.50 485.90h-2.8M236.00 611.50v1.6M42.50 470.20h-1.6M257.50 611.50v2.8M42.50 454.50h-2.8" stroke="#000" stroke-opacity="0.6" stroke-width="1.2" fill="none"/><path d="M42.00 454.60H258.10M42.00 611.50H258.10" stroke="#000" stroke-opacity="0.6" stroke-width="1.3" fill="none"/><path d="M42.70 454.00V612.00M257.60 454.00V612.00" stroke="#000" stroke-opacity="0.58" stroke-width="1.5" fill="none"/><g font-size="10.20" fill="#111" style="stroke-width:.38px"><text x="42.50" y="624.50" text-anchor="middle">0.0</text><text x="38.10" y="615.30" text-anchor="end">0.0</text><text x="85.50" y="624.50" text-anchor="middle">0.2</text><text x="38.10" y="583.90" text-anchor="end">0.2</text><text x="128.50" y="624.50" text-anchor="middle">0.4</text><text x="38.10" y="552.50" text-anchor="end">0.4</text><text x="171.50" y="624.50" text-anchor="middle">0.6</text><text x="38.10" y="521.10" text-anchor="end">0.6</text><text x="214.50" y="624.50" text-anchor="middle">0.8</text><text x="38.10" y="489.70" text-anchor="end">0.8</text><text x="257.50" y="624.50" text-anchor="middle">1.0</text><text x="38.10" y="458.30" text-anchor="end">1.0</text></g>
<text x="93.20" y="449.80" font-style="italic" font-size="14.14" fill="#111">Litchi chinensis</text><text fill="#111"><tspan x="116.50" y="638.40" font-size="12.0">G</tspan><tspan x="126.70" y="640.70" font-size="12.2">3</tspan><tspan x="133.10" y="638.40" font-size="12.0">/</tspan><tspan x="137.00" y="639.00" font-size="9.6">(</tspan><tspan x="141.10" y="638.40" font-size="12.0">G</tspan><tspan x="149.60" y="640.70" font-size="12.2">3</tspan><tspan x="157.10" y="638.40" font-size="12.8">+</tspan><tspan x="164.70" y="638.40" font-size="12.0">C</tspan><tspan x="173.70" y="640.70" font-size="12.2">3</tspan><tspan x="180.90" y="639.00" font-size="9.6">)</tspan></text><text transform="translate(17.20 563.80) rotate(-90)" fill="#111"><tspan x="0.00" y="0.00" font-size="12.0">A</tspan><tspan x="7.40" y="1.70" font-size="12.2">3</tspan><tspan x="15.00" y="0.00" font-size="12.0">/</tspan><tspan x="18.90" y="0.00" font-size="7.5">(</tspan><tspan x="21.60" y="0.00" font-size="12.0">A</tspan><tspan x="29.70" y="1.70" font-size="12.2">3</tspan><tspan x="37.20" y="0.00" font-size="12.0">+</tspan><tspan x="45.50" y="0.00" font-size="12.0">T</tspan><tspan x="53.20" y="1.70" font-size="12.2">3</tspan><tspan x="60.20" y="0.00" font-size="7.5">)</tspan></text>
<g clip-path="url(#c5)"><path d="M375.2 539.0L376.2 540.8L380.7 537.8L382.9 539.2L382.9 542.2L380.7 544.0L380.7 545.0L382.9 546.8L382.9 551.8L381.4 553.2L381.9 554.2L382.9 554.2L384.9 551.5L387.4 551.8L388.9 553.0L388.9 555.5L387.9 557.0L389.2 558.0L391.4 557.8L394.2 560.0L395.9 559.5L399.7 562.0L398.7 564.5L399.2 565.8L400.4 565.8L401.4 563.8L403.9 562.0L408.7 566.8L411.2 564.8L413.4 564.2L420.2 568.5L419.7 571.0L420.7 571.8L421.7 571.0L421.7 569.0L423.9 567.5L426.7 568.5L429.2 567.5L432.2 569.5L434.7 568.8L439.4 570.5L441.4 573.0L446.7 569.8L451.2 574.0L453.9 571.0L455.2 570.5L457.4 571.5L460.7 569.0L466.9 570.2L469.9 569.2L472.2 567.2L474.4 567.0L476.9 563.5L476.7 560.5L478.7 558.8L481.7 559.5L484.2 557.2L486.9 556.5L492.2 559.5L493.7 559.5L494.2 558.0L491.4 556.0L490.9 552.2L493.4 550.5L496.7 552.5L497.7 551.8L497.9 548.2L496.4 546.5L496.4 544.2L491.4 543.2L490.4 544.8L492.7 546.5L491.9 551.0L486.9 554.0L484.9 553.8L482.4 550.8L482.4 549.2L484.9 546.8L482.9 545.0L482.2 542.5L478.4 539.5L479.7 536.2L477.7 533.8L476.9 531.0L473.7 532.0L471.2 531.5L465.2 526.5L462.7 525.5L460.9 523.2L457.4 521.5L453.9 523.0L451.4 521.5L452.4 518.2L451.4 517.5L447.7 520.5L445.4 520.8L441.9 516.5L438.2 516.0L435.2 513.5L432.9 515.2L429.7 515.8L427.4 518.2L423.2 519.8L420.4 518.0L418.7 518.2L413.9 514.8L414.9 512.2L418.9 511.2L419.2 510.0L416.9 508.5L410.7 512.2L412.2 515.8L409.9 517.2L400.9 512.2L398.4 515.5L395.4 514.5L393.2 515.8L392.7 517.0L393.4 518.0L395.4 518.2L396.9 519.8L396.9 521.2L394.4 522.8L391.2 520.8L385.2 525.2L382.2 524.8L380.9 526.0L381.7 528.8L378.9 533.2L375.9 536.0Z" fill="#78bc33"/><path transform="scale(.1)" d="M4268 5728h0m390 15h0m-718-548h0m464 509h0m416-281h0m-648-329h0m-442 197h0m1026 11h0m-672-164h0m745 133h0m-1047 80h0m722-160h0m-730 261h0m368-322h0m-64 517h0m784-309h0m-101 397h0m-123-52h0m-748-112h0m57 63h0m758 42h0m144 28h0m-962-192h0m-32 6h0m1007-108h0m49 36h0m-25-123h0m-218-35h0m237 249h0m-739-355h0m750 313h0m-1088-4h0m890-196h0m-919 129h0m473-233h0m-64 1h0m146-90h0m-254 58h0m556 593h0m-532-77h0m-231-434h0m882 339h0m-938-77h0m723-268h0m-832 231h0m133 54h0m304-343h0m652 266h0m-727 216h0m755-245h0m-709 237h0m211-510h0m-570 249h0m512-218h0m620 384h0m-77 19h0m-325 153h0m31-26h0m287-120h0m-15 43h0m-115 63h0m-685-59h0m-206-253h0m723 330h0m354-257h0m-761-318h0m737 429h0m-867 78h0m244-454h0m693 397h0m-1085-432h0m-42 244h0m1126 134h0m-1110-437h0m1002 358h0m331 238h0m-321-272h0m-508-255h0m431 517h0m-589-495h0m-287 28h0m937 375h0m23-116h0m-764-352h0m604 178h0m-106-73h0m112 79h0m-751-108h0m686 67h0m81 576h0m137-209h0m-861-16h0m-33-391h0m-79 351h0m744 120h0m-373-565h0m429 66h0m-446-111h0m427 610h0m114 51h0m-862-197h0m-102-262h0m113-64h0m914 398h0m-695-443h0m758 358h0m-780-356h0m760 469h0m-1033-378h0m155 333h0m811-189h0m-543-253h0m355 89h0m-487-128h0m-297 145h0m1025 221h0m-898-249h0m839 176h0m-359-230h0m-583 369h0m221 80h0m793-284h0m-1057 52h0m889 322h0m-858-190h0m581 183h0m-393-96h0m76-458h0m736 368h0m-981 57h0m475 132h0m540-157h0m-71-141h0m-975 22h0m425-236h0m508 446h0m189-206h0m-248-133h0m-324 384h0m521-122h0m-1076-308h0m943 46h0m-867-212h0m879 488h0m-469-427h0m591 315h0m-732-382h0m-135 565h0m-89-59h0m848-240h0m-393-196h0m267 128h0m-504 377h0m501 92h0m-408-576h0m-37-1h0m-363 63h0m684-43h0m44 542h0m-121-569h0m-643 408h0m-34-36h0m190-353h0m317-5h0m-730 337h0m788-374h0m-3 599h0m-365-13h0m-38-723h0m40 78h0m754 569h0m-979-199h0m671-311h0m11 553h0m-480-637h0m-238 247h0m717-116h0m348 208h0m-9-222h0m425 298h0m-331 159h0m-465 136h0m202-590h0m256 596h0m-1165-428h0m505 343h0m-253-538h0m212 487h0m562 59h0m-1287-414h0m1498 212h0m-1077-393h0m-13 58h0m170-43h0m892 514h0m-479-519h0m389 609h0m-403-642h0m-441 497h0m987-78h0m-218 220h0m-502-549h0m-304-81h0m-202 231h0m1319 184h0m-88-45h0m-1344 88h0m860-361h0m326 84h0m331 369h0m-668-543h0m272 149h0m-891-11h0m976 201h0m-16 179h0m-1361-291h0m808 339h0m712-181h0m-1103-318h0m233-47h0m-108 577h0m-53-466h0m198 478h0m322 146h0m-828-670h0m566-95h0m646 573h0m-47-340h0m-6 15h0m-135 347h0m111-65h0m-287-463h0m-396-66h0m-315 299h0m361-356h0m-50 714h0m-239-658h0m134 130h0m150-112h0m460 593h0m551-294h0m-1485 65h0m1362 5h0m-1081 98h0m510 171h0m52-553h0m-916 167h0m1032-134h0m-601-84h0m-80 12h0m51 9h0m699 97h0m199 298h0m-1059-267h0m1180 271h0m-1347-504h0m854 653h0m-343-540h0m606 462h0m-1081-351h0m718 461h0m-303 11h0m-291-605h0m1240 346h0m-657-508h0m188 838h0m-820-768h0m1102 431h0m-25-153h0m-1061 140h0m758-370h0m-144 43h0m408 271h0m-1096-117h0m961-16h0m-132 495h0m-703-350h0m627-258h0m190 34h0m52 531h0m50 60h0m-1165-688h0m-80 72h0m585 463h0m-304-49h0m367-487h0m-384 245h0m846 335h0m-767-482h0m-129-38h0m46-17h0m1254 446h0m-666-474h0m-125-89h0m616 634h0m-1033-94h0m-12-111h0m478-397h0m-170 688h0m787-133h0m-448-425h0m-145 501h0m39 7h0m-822-392h0m1446 211h0m-1053 74h0m113-533h0m804 504h0m32 26h0m-1160-345h0m1122 163h0m-925 113h0m269-460h0m916 329h0m-937-248h0m776 285h0m-1148-20h0m1264 149h0m-910 67h0m-326-482h0m838 111h0m-1049 38h0m-55-151h0m479 493h0m-254-255h0m505 332h0m10-32h0m237-559h0m-46 561h0m384-406h0m-1213 96h0m232 156h0m-16 53h0m523 148h0m278-15h0m-966-338h0m1018 295h0m-319 65h0m493-379h0m-1141 61h0m919-143h0m-239 452h0m388-514h0m9 362h0m-1059-215h0m1069-162h0m-559 468h0m154-510h0m-607 145h0m295 336h0m-337-284h0m622-219h0m-551 247h0m-31-182h0m310 536h0m396 1h0m-391-629h0m-321 82h0m-137 42h0m1150 423h0m-428-489h0m-735 81h0m407 460h0m-83-77h0m873 33h0m-1014-116h0m35-309h0m-100 115h0m1005 294h0m-471 36h0m674-208h0m-366-295h0m-32 6h0m-409-18h0m-12 525h0m-220-570h0m923 83h0m-139 514h0m-897-433h0m11 209h0m65 64h0m-320-321h0m373-97h0m827 37h0m-1269 220h0m1013 301h0m240-386h0m-468-160h0m593 347h0m113 244h0m-1182-210h0m785-381h0m-492 508h0m663-84h0m-233-355h0m-802 186h0m-9-188h0m265 430h0m-205-231h0m846 263h0m212-110h0m-329 143h0m375-156h0m-457 139h0m418-281h0m-549 333h0m-653-583h0m47-15h0m1040 38h0m209 131h0m80 34h0m-854 299h0m-404-648h0m691 173h0m567 350h0m-1365-409h0m1122 119h0m-952 343h0m909-392h0m82 324h0m-228 172h0m-694-494h0m164-109h0m770 233h0m-519 363h0m-55 40h0m-437-264h0m235 173h0m54 42h0m878-184h0m-372 405h0m-248-52h0m-614-402h0m991-185h0m54 496h0m181-33h0m-1314-545h0m893 663h0m-487-180h0m-300-361h0m80 208h0m-46-302h0m694-3h0m-663 36h0m460-76h0m145 595h0m363-557h0m-1118-17h0m271 30h0m-341-141h0m366 577h0m981-135h0m-1140-108h0m1097 55h0m-419 298h0m-800-469h0m1125 20h0m42 167h0m-1396-295h0m937 610h0m-613-363h0m52 199h0m-111-251h0m977-141h0m-1013 4h0m1130 72h0m-742 332h0m941-54h0m-54 196h0m-1165-535h0m413-91h0m375 79h0m-667-143h0m901 409h0m-683-396h0m-491 157h0m1232 244h0m-335 199h0m-401-53h0m-304-537h0m330 60h0m19 526h0m-120-19h0m-215-466h0m-153 162h0m1443-8h0m-1338-122h0m356 412h0m-382-187h0m735-281h0m-732 96h0m346-127h0m-593 340h0m743-395h0m637 465h0m-723-473h0m-493 72h0m466-4h0m81 19h0m447 139h0m-203-154h0m226 85h0m-30 509h0m-120-36h0m-1020-280h0m1172-227h0m-467-80h0m328 39h0m502 224h0m-1372-163h0m221 404h0m889-382h0m-81 375h0m96-344h0m-786-140h0m195-61h0m-442 470h0m546 119h0m547-238h0m-214-292h0m-296 552h0m-562-462h0m154-118h0m650 91h0m224 235h0m-264-321h0m-845 505h0m8-375h0m-167 69h0m1217 351h0m272-54h0m-862-492h0m347 83h0m289 244h0m-158-300h0m-408-60h0m432 190h0m-781 292h0m866-271h0m-568 397h0m-174-6h0m1061-379h0m-1336-12h0m743-171h0m315 402h0m-1083-200h0m-51 114h0m1184-22h0m-331 264h0m-395-590h0m427 568h0m-573-533h0m518 693h0m385-245h0m-1400-52h0m1112-275h0m-985 61h0m595-138h0m-562 92h0m33-25h0m-20 119h0m46 108h0m207-329h0m-65 427h0m-262-227h0m631 341h0m594-409h0m-1188 131h0m1106 346h0m226-74h0m-1029-94h0m890-77h0m-476-398h0m53 582h0m11-572h0m214 568h0m-1069-187h0m-31 43h0m311 7h0m-89-236h0m208 315h0m807-250h0m-201 403h0m-561-654h0m-255 391h0m5-277h0m1276 200h0m-1028-368h0m841 603h0m-1285-465h0m121 451h0m444-21h0m590 142h0m91-337h0m-969 46h0m1093-77h0m-552 287h0m375-376h0m93 104h0m-833-296h0m-30-79h0m-198 516h0m-28-183h0m376 341h0m960-115h0m-217-49h0m13-94h0m-1146 24h0m252 179h0m428-472h0m-61-48h0m69 51h0m-661 525h0m44-633h0m653 605h0m-1046-425h0m1031-238h0m-436 723h0m217-105h0m288 22h0m326-3h0m-57-374h0m-690-156h0m-9-92h0m-346 519h0m1064-147h0m-797-293h0m-24-5h0m95-30h0m668 252h0m97 229h0m-255 110h0m267-158h0m-526 232h0m-210-640h0m-228-12h0m899 224h0m-369-271h0m-3 689h0m-847-673h0m326 86h0m529 40h0m399 283h0m-222-229h0m-772-49h0m1091 379h0m-120-46h0m-67 108h0m-1152-543h0m1266 220h0m-99 308h0m289 89h0m-1079-51h0m451-538h0m53 50h0m-666 414h0m867-462h0m-101 633h0m-399-68h0m-92-546h0m-1-57h0m-302 412h0m222 102h0m808 65h0m-125 7h0m192-124h0m-770-422h0m936 572h0m-889-551h0m436 598h0m-812-569h0m1002 234h0m-838 163h0m31 14h0m647-390h0m4 490h0m-16-27h0m281-101h0m-266 265h0m-436-66h0m-412-290h0m52 44h0m264 275h0m706-347h0m10-4h0m-62-152h0m-265-138h0m-594 40h0m495-46h0m596 341h0m-438-280h0m-576-257h0m-242 426h0m44-22h0m1152 61h0m-1153-62h0m-104-49h0m268-141h0m-192 415h0m892-369h0m-626 508h0m149 15h0m245-49h0m-530-624h0m231 597h0m651-313h0m-849-198h0m-123 282h0m1227 255h0m-1198-580h0m623 649h0m-639-679h0m670-58h0m-598 87h0m-163 298h0m956 313h0m-956-192h0m984-225h0m88 360h0m-478-639h0m282 759h0m-6 14h0m-814-248h0m938-236h0m89 272h0m-162 132h0m268-7h0m-187-65h0m-344 182h0m314-573h0m-520 463h0m409-29h0m104-19h0m167-24h0m-883-633h0m403 48h0m-653 116h0m168-114h0m783 218h0m-1052 57h0m206 66h0m972 226h0m-458-509h0m94 42h0m-833 340h0m584 246h0m-390-285h0m-193 15h0m634-362h0m-443 129h0m629 512h0m160-555h0m-324 530h0m-447-554h0m562 620h0m602-550h0m-577 457h0m-654-486h0m1064 279h0m-874 114h0m507-520h0m373 272h0m-367 386h0m-512-611h0m1012 225h0m-512 432h0m-611-209h0m420-498h0m575 200h0m67 223h0m33-38h0m-503-339h0m174 65h0m-431 482h0m75-27h0m98 16h0m-270-530h0m-160 484h0m-180-399h0m1024 448h0m86 57h0m-1039-426h0m3 114h0m155-205h0m-189 87h0m-119 92h0m1139 339h0m109-200h0m-1226-266h0m843-98h0m-352-73h0m-111 591h0m-330-621h0m-61 300h0m484-285h0m621 498h0m-708-481h0m557 629h0m-492-105h0m327-463h0m-245 12h0m547 448h0m-1018-94h0m1091-75h0m-22 381h0m-903-246h0m-88-74h0m1066-143h0m73 242h0m169-148h0m-401-257h0m-123 18h0m155 394h0m84-100h0m-144-302h0m-239-47h0m471 584h0m32-324h0m-266-351h0m-413 602h0m-522-302h0m178 198h0m-316-221h0m740-219h0m609 522h0m-229-349h0m-559 335h0m656-408h0m-1069 144h0m580 301h0m-484 28h0m332-1h0m-372-190h0m662 170h0m215-387h0m-601 392h0m175-858h0m837 1058h0m185-21h0m58 190h0" stroke="#78bc33" stroke-width="23.0" stroke-linecap="round" fill="none"/><path d="M428.50 454.50v157.00M321.20 533.00h215.00" stroke="#000" stroke-opacity="0.6" stroke-width="1.4"/></g>
<path d="M321.20 611.50v2.8M321.20 611.50h-2.8M342.70 611.50v1.6M321.20 595.80h-1.6M364.20 611.50v2.8M321.20 580.10h-2.8M385.70 611.50v1.6M321.20 564.40h-1.6M407.20 611.50v2.8M321.20 548.70h-2.8M428.70 611.50v1.6M321.20 533.00h-1.6M450.20 611.50v2.8M321.20 517.30h-2.8M471.70 611.50v1.6M321.20 501.60h-1.6M493.20 611.50v2.8M321.20 485.90h-2.8M514.70 611.50v1.6M321.20 470.20h-1.6M536.20 611.50v2.8M321.20 454.50h-2.8" stroke="#000" stroke-opacity="0.6" stroke-width="1.2" fill="none"/><path d="M320.70 454.60H536.80M320.70 611.50H536.80" stroke="#000" stroke-opacity="0.6" stroke-width="1.3" fill="none"/><path d="M321.40 454.00V612.00M536.30 454.00V612.00" stroke="#000" stroke-opacity="0.58" stroke-width="1.5" fill="none"/><g font-size="10.20" fill="#111" style="stroke-width:.38px"><text x="321.20" y="624.50" text-anchor="middle">0.0</text><text x="316.80" y="615.30" text-anchor="end">0.0</text><text x="364.20" y="624.50" text-anchor="middle">0.2</text><text x="316.80" y="583.90" text-anchor="end">0.2</text><text x="407.20" y="624.50" text-anchor="middle">0.4</text><text x="316.80" y="552.50" text-anchor="end">0.4</text><text x="450.20" y="624.50" text-anchor="middle">0.6</text><text x="316.80" y="521.10" text-anchor="end">0.6</text><text x="493.20" y="624.50" text-anchor="middle">0.8</text><text x="316.80" y="489.70" text-anchor="end">0.8</text><text x="536.20" y="624.50" text-anchor="middle">1.0</text><text x="316.80" y="458.30" text-anchor="end">1.0</text></g>
<text x="366.00" y="448.70" font-style="italic" font-size="12.59" fill="#111">Nephelium lappaceum</text><text fill="#111"><tspan x="395.20" y="638.40" font-size="12.0">G</tspan><tspan x="405.40" y="640.70" font-size="12.2">3</tspan><tspan x="411.80" y="638.40" font-size="12.0">/</tspan><tspan x="415.70" y="639.00" font-size="9.6">(</tspan><tspan x="419.80" y="638.40" font-size="12.0">G</tspan><tspan x="428.30" y="640.70" font-size="12.2">3</tspan><tspan x="435.80" y="638.40" font-size="12.8">+</tspan><tspan x="443.40" y="638.40" font-size="12.0">C</tspan><tspan x="452.40" y="640.70" font-size="12.2">3</tspan><tspan x="459.60" y="639.00" font-size="9.6">)</tspan></text><text transform="translate(295.90 563.80) rotate(-90)" fill="#111"><tspan x="0.00" y="0.00" font-size="12.0">A</tspan><tspan x="7.40" y="1.70" font-size="12.2">3</tspan><tspan x="15.00" y="0.00" font-size="12.0">/</tspan><tspan x="18.90" y="0.00" font-size="7.5">(</tspan><tspan x="21.60" y="0.00" font-size="12.0">A</tspan><tspan x="29.70" y="1.70" font-size="12.2">3</tspan><tspan x="37.20" y="0.00" font-size="12.0">+</tspan><tspan x="45.50" y="0.00" font-size="12.0">T</tspan><tspan x="53.20" y="1.70" font-size="12.2">3</tspan><tspan x="60.20" y="0.00" font-size="7.5">)</tspan></text>
<g clip-path="url(#c6)"><path d="M95.5 757.8L97.0 760.0L100.8 760.5L104.8 766.2L104.2 769.5L101.0 771.0L100.2 772.5L101.2 773.2L103.5 770.5L106.0 770.5L107.2 771.8L107.0 775.8L108.0 777.8L109.5 777.2L110.5 774.5L112.5 774.2L116.0 777.0L115.8 779.8L118.8 783.2L121.2 782.5L125.0 784.8L128.2 784.5L131.0 788.5L133.5 787.2L136.0 788.2L138.2 787.0L141.0 789.8L143.0 790.0L146.8 787.0L151.2 786.8L154.0 788.8L153.2 792.0L154.2 792.8L165.2 784.8L168.5 787.8L170.8 786.5L172.8 787.0L173.8 788.0L173.5 790.2L175.5 791.5L182.0 787.5L181.2 784.8L182.8 783.5L184.8 783.5L187.5 781.8L189.2 782.5L191.8 782.0L195.0 784.2L196.8 783.5L197.5 782.2L196.5 779.0L198.2 777.5L200.0 777.0L203.2 779.8L205.0 779.0L207.2 780.2L208.2 779.0L205.5 777.0L203.8 774.2L203.8 772.8L205.8 771.0L205.0 768.0L209.2 765.0L212.8 765.8L214.2 764.5L211.2 762.0L213.0 756.0L211.8 755.0L208.2 756.8L203.8 755.0L202.8 752.5L205.0 750.2L204.5 748.5L202.8 747.5L200.2 748.2L198.8 751.2L196.2 751.2L195.2 750.2L195.5 748.0L193.0 746.0L193.0 744.8L187.8 741.8L187.8 740.0L189.2 738.5L187.8 735.5L185.5 736.0L186.2 739.5L184.8 740.8L179.5 739.2L177.2 740.2L175.0 738.8L175.0 737.2L176.2 736.0L175.2 734.5L172.2 735.0L169.2 733.2L166.2 735.5L163.2 735.5L161.0 734.0L160.5 732.5L157.2 731.2L155.0 732.0L152.0 734.8L145.0 731.8L143.0 734.8L140.2 736.8L133.0 732.2L131.8 732.8L130.0 732.0L128.0 733.0L128.8 736.0L126.5 737.5L123.5 737.5L119.0 734.8L114.2 737.5L110.8 735.2L109.0 737.5L112.0 739.5L112.0 741.0L109.2 743.0L109.8 745.5L108.8 747.0L105.0 749.0L104.0 752.5L100.5 755.2L98.5 754.2Z" fill="#78bc33"/><path transform="scale(.1)" d="M1507 7350h0m304 518h0m-700-468h0m528 462h0m121-589h0m-447 57h0m577 480h0m-16 44h0m-169 67h0m303-159h0m-64-287h0m-213 426h0m-305-543h0m652 378h0m-1064-15h0m730 181h0m-746-338h0m653 336h0m-611-269h0m214-251h0m-89 394h0m-74-328h0m1023 150h0m-1002-167h0m-102 268h0m-47-32h0m60-51h0m645-255h0m-464 472h0m131-551h0m58 67h0m-150 543h0m648-72h0m-177 64h0m46-489h0m-267-45h0m-56-5h0m667 401h0m-663-387h0m-300 385h0m849 22h0m-190-358h0m-5 493h0m-751-388h0m395-170h0m468 495h0m-255-468h0m224 454h0m168-316h0m-360 353h0m-422-490h0m815 189h0m-831 300h0m603-28h0m-785-467h0m388 516h0m503-360h0m-98 301h0m-497 51h0m327 2h0m273-353h0m-678-189h0m-345 288h0m51-20h0m63 53h0m204-269h0m63 530h0m-69-75h0m234-513h0m197 544h0m-344-545h0m616 136h0m-1069 64h0m819-184h0m-754 118h0m102 20h0m823-98h0m-898 133h0m809-154h0m68 37h0m48 30h0m-40 445h0m-543 29h0m727-50h0m-413-538h0m404 447h0m-239 136h0m-109-554h0m-440 557h0m202-582h0m458 501h0m-641-492h0m-78 37h0m854 324h0m-226-429h0m-822 348h0m1-122h0m930-41h0m-30 372h0m-622 23h0m798-176h0m-775-290h0m0-18h0m380 529h0m-412-511h0m-8 469h0m-102-87h0m405 160h0m244-7h0m-429-13h0m761-161h0m-697-396h0m327 76h0m-97-45h0m205 513h0m57-433h0m-7 22h0m206 181h0m-160-171h0m-874-54h0m868 403h0m-589 38h0m-3 62h0m696-165h0m-452 101h0m-49-546h0m-218 550h0m425-632h0m-135 626h0m-89 119h0m-632-154h0m289-490h0m196 584h0m-444-307h0m1137 174h0m109-46h0m-1375-226h0m534 412h0m6-561h0m963 158h0m-1163-155h0m377 551h0m416-485h0m-1178 152h0m1315-17h0m-1156 66h0m343 205h0m-230-145h0m553-449h0m-127 93h0m-194 497h0m-34-451h0m596 482h0m-1127-290h0m1027 325h0m-625-96h0m972-60h0m-1021 5h0m-168-112h0m422 320h0m-254-185h0m437 142h0m-525-251h0m656-331h0m-639 25h0m1 430h0m-29-309h0m1167 335h0m127-286h0m-969 321h0m-343-452h0m1082 85h0m-81 321h0m88-92h0m-780 169h0m491-529h0m-786 243h0m1185 182h0m-97-491h0m0 280h0m-445 340h0m-358-15h0m407-527h0m-596 335h0m418 235h0m185-631h0m222 80h0m-774-49h0m841-60h0m-796-48h0m276 652h0m676-310h0m-478-248h0m439 338h0m-407 262h0m45-23h0m-764-405h0m-12-126h0m151-57h0m456 603h0m419-24h0m-855-531h0m989 210h0m-453 291h0m-743-392h0m1206 5h0m-701-249h0m-165 79h0m422-18h0m-4 30h0m-51 666h0m257-762h0m94 300h0m-418 399h0m548-207h0m-1033-199h0m-103 5h0m135-193h0m1113 367h0m-131-4h0m41-40h0m-1137-14h0m457 261h0m-424-362h0m473 329h0m-445-37h0m487 104h0m539-220h0m90-158h0m6 103h0m-1180-365h0m-171 277h0m1015 266h0m-165-585h0m3 36h0m383 474h0m-963-427h0m-42 209h0m313-196h0m227-170h0m572 657h0m-836 51h0m-83-52h0m508-493h0m347 122h0m-478 430h0m380-372h0m195 37h0m-6 5h0m-325-224h0m-155 591h0m238-563h0m61 44h0m-908 345h0m55-370h0m300-137h0m-221 34h0m508 627h0m-630-468h0m780-83h0m-362 592h0m-573-457h0m1126 222h0m-58 59h0m-993-231h0m521 371h0m422-93h0m-900-325h0m566 365h0m-640-396h0m1045 523h0m1-554h0m-894-72h0m-344 89h0m1059 498h0m73-468h0m113 216h0m-1067-66h0m66-110h0m1001 235h0m-475 151h0m-547-164h0m987-283h0m-30-184h0m-946 476h0m-234-226h0m500-196h0m-138 550h0m163-638h0m-434 275h0m1222 45h0m-233-180h0m-17 531h0m152-96h0m-62 37h0m-262 17h0m-668-196h0m737-293h0m339 457h0m33-126h0m-374 196h0m-560-547h0m-340 172h0m810-232h0m-102 675h0m47-644h0m-357-68h0m-290 327h0m-18 190h0m890 101h0m9 60h0m-519-609h0m-607 202h0m378 304h0m-161-229h0m200 142h0m485-392h0m-621 315h0m802-383h0m-199 51h0m-624 230h0m1139-56h0m-477-237h0m224 92h0m-158-100h0m162 110h0m-750 18h0m1007 256h0m-641-304h0m851 167h0m-1244-46h0m49-186h0m688 608h0m78-492h0m-948 118h0m313-185h0m780 224h0m-1165 28h0m1085-116h0m-267-132h0m-873 39h0m1429 268h0m-720-322h0m-404 427h0m809-239h0m-306-205h0m-679 473h0m980-298h0m96-90h0m-770 619h0m852-370h0m-1060-132h0m514-186h0m514 80h0m-843-96h0m171 589h0m-343-47h0m899-17h0m26-331h0m-123-70h0m-681 389h0m875-6h0m-478 145h0m693-273h0m-584-465h0m-646 462h0m192-411h0m-239 236h0m437-176h0m-549 280h0m1089-197h0m-69 450h0m-227 55h0m-725-532h0m1178 239h0m-1239 39h0m752 258h0m-434-662h0m-169 101h0m453-14h0m-538 93h0m250 412h0m759-460h0m151 280h0m-1208-267h0m-17 28h0m1194 464h0m-1253-263h0m706-299h0m378 83h0m286 116h0m-757 336h0m-582-363h0m768-145h0m-594 326h0m1022 81h0m-1013-72h0m937 281h0m-810-10h0m120-36h0m505-519h0m93 27h0m-377 500h0m426-442h0m-431-165h0m-366 426h0m164-456h0m623 665h0m-1136-583h0m32 92h0m422-103h0m752 63h0m-1082-16h0m102 129h0m805-157h0m-535-44h0m282 542h0m-252 54h0m-430-338h0m1016-153h0m-280-158h0m-46 25h0m-377-17h0m69 65h0m833-34h0m-961 51h0m564 541h0m400-158h0m-365 154h0m-454-583h0m-255 394h0m612 122h0m-691-279h0m1280 283h0m-24-164h0m-340-322h0m-896 175h0m-107 249h0m175-145h0m65-286h0m-283 31h0m1040-76h0m-854 396h0m1118-98h0m-970-381h0m860 294h0m-1063 346h0m1190-96h0m-118 12h0m-1067-91h0m835 177h0m-672-50h0m8-468h0m-168 358h0m850-398h0m165 468h0m-404-500h0m-464 76h0m54 2h0m-242 383h0m197-463h0m75 26h0m358 658h0m282-50h0m50-483h0m49 433h0m-967-208h0m1163-22h0m-325-236h0m152-18h0m124 337h0m107-214h0m-43 196h0m-142-321h0m-106 570h0m-392-705h0m225 617h0m-204 168h0m590-471h0m-1145-13h0m289-245h0m848 242h0m-459 353h0m-473-688h0m7 612h0m-223-206h0m355-345h0m423 618h0m-673-171h0m821-386h0m-103 570h0m-408 49h0m622-530h0m-646 453h0m804-422h0m-488 398h0m445-174h0m-761-354h0m779 282h0m-614-361h0m446 132h0m-142 500h0m-388-625h0m275 612h0m-337-561h0m-392 233h0m788-260h0m528 490h0m-1138 99h0m206-534h0m824 302h0m-1149-149h0m-189 14h0m195 201h0m460 183h0m552-551h0m-946 85h0m148-150h0m591 97h0m-664 512h0m656-483h0m63 24h0m-146 566h0m-42 1h0m51-11h0m-367-673h0m-249 526h0m765-15h0m-456-632h0m824 380h0m-555-207h0m543 411h0m-143 140h0m-497-641h0m602 376h0m-224 157h0m-361 105h0m-755-486h0m1122 63h0m-663-119h0m-133 470h0m-395-314h0m547 449h0m493-574h0m-772-14h0m834 50h0m-251-159h0m-306 663h0m223-53h0m398-35h0m-902-58h0m145-457h0m869 317h0m-1144 50h0m861-280h0m-745-42h0m143-22h0m854 441h0m-896-439h0m1135 270h0m-1295 118h0m432 269h0m-238-707h0m880 225h0m-288-252h0m269 402h0m-329-406h0m-764 116h0m27 321h0m965-208h0m104 49h0m207 214h0m-710-434h0m401 444h0m143-73h0m-576 186h0m462-388h0m-897 462h0m446-682h0m300 35h0m-923 448h0m306 73h0m1085-202h0m-465-273h0m-833 141h0m471 511h0m557-349h0m-160 225h0m45-55h0m226-194h0m-42-74h0m-476 336h0m141-504h0m-874 153h0m259 352h0m1027-256h0m-503-310h0m-159 581h0m360 16h0m-541-37h0m789-380h0m16 86h0m-227-182h0m127 370h0m-742 80h0m-143-595h0m302 49h0m340 93h0m-771 406h0m310-520h0m340 745h0m174-138h0m250-367h0m-1042 186h0m738-440h0m-684 517h0m874-314h0m155 115h0m-1062-244h0m532 536h0m143-487h0m473 266h0m-223 110h0m9-460h0m-626 562h0m-421-392h0m1131 329h0m-774 45h0m235-661h0m-233-27h0m-259 585h0m327-392h0m-438 167h0m461-301h0m-379 212h0m329 440h0m-490-308h0m1147-214h0m-1035 23h0m57-69h0m481 3h0m45 1h0m343 89h0m-330 499h0m-593-606h0m-39 64h0m906 520h0m-753-510h0m758 462h0m-921-201h0m324 234h0m457-532h0m-165-125h0m-204 138h0m597-64h0m-481 574h0m-278-507h0m339 606h0m-19-93h0m288 44h0m-3 74h0m-726-532h0m-112 132h0m949-222h0m-980-20h0m994 132h0m-129 427h0m-870-339h0m606 337h0m-531-574h0m641 21h0m392 171h0m-188-143h0m-322 532h0m-488-162h0m759-376h0m-174 663h0m418-591h0m-643 528h0m-155-595h0m-216 404h0m965 146h0m-50-521h0m192 448h0m-977-63h0m409 86h0m-580-162h0m-82-163h0m1013 326h0m-406 33h0m-589-249h0m1294 9h0m-243-157h0m-804 306h0m153-484h0m-29-53h0m454 613h0m-542-526h0m-183 332h0m126 77h0m-343-82h0m974-301h0m-963 289h0m1417-64h0m-815 256h0m23-556h0m-158 548h0m642-12h0m-961-82h0m-155-426h0m1348 504h0m-1194-605h0m-142 411h0m414-469h0m-205 618h0m857 21h0m132-413h0m298 312h0m-1340-179h0m-105 215h0m269 24h0m1199-89h0m-420 222h0m64-444h0m-818-223h0m1000 126h0m-419-1h0m-7-75h0m285 436h0m14-320h0m-1187 184h0m1102-148h0m-137 407h0m293 2h0m-827-16h0m-336-212h0m69 7h0m65-394h0m189 80h0m77-6h0m-20-39h0m99-10h0m-267 530h0m-148-183h0m-26-108h0m17-141h0m782 494h0m-412-520h0m686 187h0m-249-294h0m-663 127h0m810 544h0m-591-546h0m301-16h0m-185 503h0m48 84h0m-566-268h0m957 144h0m-194-502h0m195 29h0m-670 589h0m534-73h0m223-343h0m-402 408h0m-137-70h0m285-623h0m61 30h0m302 204h0m-171-155h0m5 105h0m-557-108h0m-288 517h0m1367-647h0m37 24h0m4 41h0m9-10h0m4 153h0m-198 125h0m140 2h0m-112 209h0m84 150h0m-189 2h0m290 185h0m9 82h0m0 62h0m0 48h0" stroke="#78bc33" stroke-width="23.0" stroke-linecap="round" fill="none"/><path d="M150.40 671.50v157.00M42.50 750.00h215.00" stroke="#000" stroke-opacity="0.6" stroke-width="1.4"/></g>
<path d="M42.50 828.50v2.8M42.50 828.50h-2.8M64.00 828.50v1.6M42.50 812.80h-1.6M85.50 828.50v2.8M42.50 797.10h-2.8M107.00 828.50v1.6M42.50 781.40h-1.6M128.50 828.50v2.8M42.50 765.70h-2.8M150.00 828.50v1.6M42.50 750.00h-1.6M171.50 828.50v2.8M42.50 734.30h-2.8M193.00 828.50v1.6M42.50 718.60h-1.6M214.50 828.50v2.8M42.50 702.90h-2.8M236.00 828.50v1.6M42.50 687.20h-1.6M257.50 828.50v2.8M42.50 671.50h-2.8" stroke="#000" stroke-opacity="0.6" stroke-width="1.2" fill="none"/><path d="M42.00 671.60H258.10M42.00 828.50H258.10" stroke="#000" stroke-opacity="0.6" stroke-width="1.3" fill="none"/><path d="M42.70 671.00V829.00M257.60 671.00V829.00" stroke="#000" stroke-opacity="0.58" stroke-width="1.5" fill="none"/><g font-size="10.20" fill="#111" style="stroke-width:.38px"><text x="42.50" y="841.50" text-anchor="middle">0.0</text><text x="38.10" y="832.30" text-anchor="end">0.0</text><text x="85.50" y="841.50" text-anchor="middle">0.2</text><text x="38.10" y="800.90" text-anchor="end">0.2</text><text x="128.50" y="841.50" text-anchor="middle">0.4</text><text x="38.10" y="769.50" text-anchor="end">0.4</text><text x="171.50" y="841.50" text-anchor="middle">0.6</text><text x="38.10" y="738.10" text-anchor="end">0.6</text><text x="214.50" y="841.50" text-anchor="middle">0.8</text><text x="38.10" y="706.70" text-anchor="end">0.8</text><text x="257.50" y="841.50" text-anchor="middle">1.0</text><text x="38.10" y="675.30" text-anchor="end">1.0</text></g>
<text x="90.50" y="667.40" font-style="italic" font-size="14.12" fill="#111">Sapindus mukorossi</text><text fill="#111"><tspan x="116.50" y="855.40" font-size="12.0">G</tspan><tspan x="126.70" y="857.70" font-size="12.2">3</tspan><tspan x="133.10" y="855.40" font-size="12.0">/</tspan><tspan x="137.00" y="856.00" font-size="9.6">(</tspan><tspan x="141.10" y="855.40" font-size="12.0">G</tspan><tspan x="149.60" y="857.70" font-size="12.2">3</tspan><tspan x="157.10" y="855.40" font-size="12.8">+</tspan><tspan x="164.70" y="855.40" font-size="12.0">C</tspan><tspan x="173.70" y="857.70" font-size="12.2">3</tspan><tspan x="180.90" y="856.00" font-size="9.6">)</tspan></text><text transform="translate(17.20 780.80) rotate(-90)" fill="#111"><tspan x="0.00" y="0.00" font-size="12.0">A</tspan><tspan x="7.40" y="1.70" font-size="12.2">3</tspan><tspan x="15.00" y="0.00" font-size="12.0">/</tspan><tspan x="18.90" y="0.00" font-size="7.5">(</tspan><tspan x="21.60" y="0.00" font-size="12.0">A</tspan><tspan x="29.70" y="1.70" font-size="12.2">3</tspan><tspan x="37.20" y="0.00" font-size="12.0">+</tspan><tspan x="45.50" y="0.00" font-size="12.0">T</tspan><tspan x="53.20" y="1.70" font-size="12.2">3</tspan><tspan x="60.20" y="0.00" font-size="7.5">)</tspan></text>
<g clip-path="url(#c7)"><path d="M381.4 757.8L383.4 760.2L383.4 761.8L381.9 763.2L383.4 766.2L385.4 765.0L389.4 768.0L391.2 767.2L392.9 767.8L393.9 770.2L392.2 772.5L394.2 774.0L396.7 772.8L399.7 773.8L400.9 775.0L400.9 776.5L398.7 778.8L402.9 781.2L403.7 784.0L408.7 780.8L413.4 783.8L413.4 786.0L415.4 787.0L418.4 785.0L419.9 785.5L421.7 787.2L421.4 789.5L422.4 790.2L425.4 787.2L428.4 788.0L431.7 786.0L435.7 789.2L438.4 786.2L437.9 783.8L440.9 781.5L445.2 782.5L447.7 786.5L453.4 785.5L453.4 782.5L455.7 781.0L459.9 783.8L461.7 782.0L461.7 779.5L463.4 778.0L465.7 778.2L469.2 776.2L474.2 769.5L477.7 768.8L481.2 770.5L481.7 769.2L479.4 767.5L479.4 766.0L481.9 764.5L483.2 762.5L482.2 761.2L479.7 761.0L478.7 758.2L476.2 756.5L475.7 752.2L477.2 750.8L477.7 745.0L474.9 744.0L472.7 741.5L472.7 739.8L473.9 738.5L472.9 737.0L470.9 738.0L471.4 740.5L470.2 741.8L463.7 745.0L461.2 743.2L461.2 741.5L465.2 739.2L464.2 737.5L462.4 738.0L459.7 740.8L453.9 740.0L450.9 737.5L448.9 737.0L447.4 735.0L443.2 734.8L440.2 732.0L434.7 734.0L431.4 732.0L428.7 732.5L425.7 728.8L417.4 733.2L415.2 731.8L416.2 728.8L414.9 727.8L413.9 728.5L414.9 731.5L411.2 733.2L408.9 736.5L405.7 736.8L402.4 734.5L399.2 736.5L396.2 735.5L390.2 741.2L389.7 743.2L390.4 745.8L388.2 747.5L388.7 750.8L386.4 753.0L386.9 755.5Z" fill="#78bc33"/><path transform="scale(.1)" d="M4504 7382h0m-515 346h0m-133 23h0m-70-282h0m780 370h0m246-150h0m-40-236h0m-94-34h0m57 18h0m-416-109h0m468 262h0m-233-215h0m-64-14h0m329 399h0m-459-412h0m19-46h0m181 106h0m146 325h0m-588-386h0m-1 532h0m2-57h0m609-106h0m64-193h0m131 304h0m-463 6h0m270-33h0m-192 11h0m28-416h0m-629 303h0m821 4h0m102-56h0m-102 41h0m-856-253h0m782 8h0m-565 429h0m637-311h0m-136-180h0m-792 267h0m986 64h0m-409 141h0m349-118h0m-53 32h0m-196 121h0m197-116h0m-84-314h0m-543 417h0m126-554h0m-398 345h0m117 28h0m875-2h0m-596 203h0m417-77h0m-532-474h0m320-19h0m374 357h0m-671-342h0m695 433h0m-928-236h0m756-77h0m-730 210h0m512 137h0m139-436h0m267 183h0m-215-176h0m-672 420h0m702-350h0m-46-36h0m-646 304h0m505-351h0m292 432h0m50-256h0m-198-130h0m-204-76h0m-310 40h0m-112 374h0m-94-277h0m916 275h0m-77 66h0m173-317h0m-985 181h0m-19-228h0m953 88h0m-945-107h0m-81 159h0m429 289h0m535-460h0m-116 403h0m-125 151h0m138-203h0m-555-421h0m325-62h0m-571 362h0m552 227h0m104-25h0m-523-63h0m734-4h0m-192 83h0m-104 18h0m128-83h0m42-371h0m-306-91h0m-1-31h0m350 485h0m71-6h0m-833-309h0m-10 248h0m799 36h0m-535 91h0m489-405h0m29-48h0m-649 335h0m-183-201h0m778-91h0m-277-183h0m593 307h0m-1064 81h0m474 212h0m456-205h0m-160-261h0m-553-52h0m612 458h0m-38-31h0m-59-355h0m17-31h0m-443 475h0m-101-485h0m-85 399h0m-134-198h0m923 1h0m-889-13h0m553 255h0m42-462h0m301 236h0m-904-149h0m438 468h0m201-520h0m362 361h0m-419 66h0m-394-492h0m277-17h0m-193-21h0m-96 623h0m220-42h0m361-482h0m-701 28h0m-74 388h0m314 47h0m607-265h0m92 107h0m-62-72h0m-1090-37h0m927 240h0m-146 176h0m397-439h0m-405 456h0m222-604h0m169 87h0m-579 411h0m607-140h0m-234-319h0m-779 228h0m121-389h0m-8 555h0m646-500h0m170 416h0m-355 81h0m-567-379h0m1025 11h0m-682 488h0m-357-299h0m1065-121h0m-201-3h0m-1070 13h0m560-241h0m-494 323h0m137-115h0m481 364h0m-581-402h0m64-217h0m882 128h0m-570 465h0m578-10h0m-132-17h0m139-381h0m-53-209h0m44 591h0m313-182h0m-1136 148h0m858-290h0m286 122h0m-737-365h0m-385 130h0m511-69h0m-32 12h0m499 140h0m-744-146h0m534 441h0m-699 119h0m119-597h0m750 339h0m-729 218h0m787-265h0m-760-257h0m370 525h0m78-441h0m119 13h0m261 109h0m-1124 34h0m421 387h0m626-291h0m-549 180h0m-569-332h0m683-186h0m-87 488h0m-53 72h0m-533-146h0m527-491h0m-104 62h0m350 551h0m49-511h0m-947 403h0m459-425h0m-37 31h0m-176 393h0m-214-298h0m913 387h0m148-87h0m224-253h0m-23 202h0m-129 166h0m-887-508h0m659 414h0m101-383h0m-606-80h0m52 17h0m476 57h0m210 123h0m-1125 29h0m836 328h0m105-424h0m-20 408h0m-660-7h0m19-40h0m481-580h0m-295 110h0m223 514h0m-412-54h0m575 57h0m-675-433h0m456-75h0m18 479h0m297-438h0m-614-53h0m427 524h0m394-431h0m-734-119h0m643 159h0m-174 321h0m-111 66h0m441-365h0m-235 243h0m-903-231h0m405 397h0m-149-84h0m635-44h0m-565-434h0m696 287h0m-1031-223h0m811 455h0m-622-518h0m228-90h0m823 488h0m-937 124h0m951-183h0m-541 183h0m-608-442h0m747-55h0m239 359h0m-571 217h0m-551-126h0m983-294h0m-436-182h0m367 50h0m-188-67h0m-609 178h0m942 191h0m-887-451h0m796 526h0m-160-376h0m-30-6h0m-226 490h0m514-64h0m-515-617h0m156 818h0m174-233h0m-934-155h0m917 258h0m108-20h0m-936-397h0m131-72h0m536 463h0m491-366h0m-974-157h0m-41 408h0m852-32h0m-790-412h0m695 35h0m-210 58h0m-548 454h0m820-362h0m-1025 150h0m127-279h0m789 98h0m198 280h0m-423-408h0m13 547h0m-505-162h0m-126 2h0m370 210h0m211-597h0m-81 656h0m-444-314h0m48-280h0m966 461h0m-820-629h0m257 706h0m514-117h0m-856-10h0m80-599h0m742 466h0m36 134h0m-10-204h0m-613 282h0m133 4h0m421 11h0m51-438h0m-45 143h0m-29 133h0m-899-210h0m910 18h0m18 192h0m-859-421h0m421 668h0m293-56h0m-67-506h0m-813 227h0m-17-124h0m1094 23h0m-666-204h0m612 614h0m-993-643h0m1049 124h0m-965 110h0m-42 101h0m184 150h0m50 25h0m66-599h0m-75 627h0m923-35h0m-1389-279h0m1056 449h0m-724-304h0m529 186h0m-492-475h0m-330 74h0m1135 120h0m-35-199h0m-250 483h0m-260 91h0m-35-27h0m457-654h0m109 526h0m-813-106h0m502-336h0m317 35h0m-720 533h0m-85-94h0m953-136h0m-164 137h0m76-128h0m-854-416h0m291 647h0m505-77h0m-583-524h0m604 518h0m-189 21h0m-163-603h0m-634 158h0m44 182h0m826 187h0m-552 27h0m102-600h0m457 585h0m129-424h0m36 284h0m102-11h0m-456 208h0m-406-480h0m302 485h0m46 1h0m-479-134h0m736-312h0m-14 374h0m215-181h0m-907 127h0m953-27h0m-390-321h0m-765 264h0m1015-96h0m-823 198h0m943-13h0m-967 9h0m651 152h0m-448-46h0m-264-463h0m138-30h0m699 407h0m-28-334h0m-949 59h0m643 485h0m303-79h0m188-156h0m-101-303h0m-384 415h0m-556-274h0m470 280h0m317 51h0m-356-646h0m396 505h0m-592-429h0m382 588h0m-610-200h0m6-340h0m-34-62h0m165 28h0m949 173h0m-895-278h0m128 608h0m580-483h0m-374 505h0m-215-572h0m-158 539h0m-46-155h0m770 147h0m-702-62h0m842-172h0m-584-312h0m-506 295h0m65 40h0m466-351h0m-358 438h0m651-383h0m-652 514h0m888-364h0m-891 237h0m434 248h0m414-383h0m-903-84h0m634-113h0m396 88h0m-238-27h0m-670-84h0m-157 246h0m228-247h0m85-95h0m561 108h0m-734-41h0m234 514h0m243-532h0m371 246h0m-1042 8h0m-34 64h0m1207 128h0m-961 11h0m34-429h0m659 81h0m-894 118h0m107-118h0m1038 178h0m-1079-122h0m948-64h0m-962-161h0m125 76h0m458 535h0m-448-570h0m-88 509h0m-175-355h0m121 4h0m-3 128h0m657 258h0m309-317h0m-581-212h0m614 50h0m-757 527h0m288-570h0m191 552h0m8-518h0m294 213h0m-1010 4h0m961 10h0m-611 353h0m-159-121h0m688-394h0m22 121h0m311 84h0m-1225 52h0m-144 84h0m1178-259h0m-611-203h0m-213 68h0m485 465h0m-135 59h0m401-449h0m51 103h0m-457 287h0m-463-159h0m129-438h0m930 435h0m-121-131h0m-1275 40h0m255-70h0m1020 242h0m-323 163h0m206-237h0m-295-328h0m-225 547h0m348-56h0m273-332h0m-582-183h0m283 475h0m-14-489h0m-253-81h0m-37 62h0m572 319h0m-182-222h0m-673 406h0m-183-212h0m971-222h0m-53 63h0m65 356h0m-17 35h0m-1011-420h0m165-92h0m-63 99h0m820 4h0m168 134h0m-69 162h0m-1014-147h0m1020 189h0m-121-369h0m-763 40h0m209-101h0m200 12h0m-57 609h0m46-608h0m177 482h0m-716-216h0m518-302h0m-14 618h0m-23-37h0m-401-299h0m1146-146h0m-1105-16h0m160 396h0m748-99h0m-16-143h0m-836 191h0m-92-254h0m766 363h0m-693-156h0m-61-66h0m180 106h0m821-83h0m-480 297h0m619-551h0m-743 467h0m661-455h0m-112 158h0m-740 302h0m-94-108h0m-37-374h0m634 0h0m-444 557h0m-174-244h0m893-82h0m-623 223h0m395-28h0m319-158h0m-881 143h0m479-432h0m-686 188h0m949 143h0m-336 214h0m-314-597h0m-271 432h0m740-432h0m176 141h0m-680 330h0m196 73h0m676-235h0m-1005 115h0m830 0h0m-276-385h0m-475 466h0m152-507h0m-350 369h0m964 216h0m-218-100h0m-96-491h0m-726 319h0m905-326h0m-195 525h0m-431-606h0m659 517h0m-889-249h0m864 256h0m-19 110h0m-811-153h0m1080 55h0m-982-68h0m853-276h0m-8 107h0m-770-185h0m483 609h0m-757-304h0m97-47h0m820 260h0m34 16h0m-869-199h0m334-395h0m-298 203h0m453-174h0m602 354h0m-378 138h0m-537 120h0m653-639h0m180 267h0" stroke="#78bc33" stroke-width="23.0" stroke-linecap="round" fill="none"/><path d="M428.50 671.50v157.00M321.20 750.00h215.00" stroke="#000" stroke-opacity="0.6" stroke-width="1.4"/></g>
<path d="M321.20 828.50v2.8M321.20 828.50h-2.8M342.70 828.50v1.6M321.20 812.80h-1.6M364.20 828.50v2.8M321.20 797.10h-2.8M385.70 828.50v1.6M321.20 781.40h-1.6M407.20 828.50v2.8M321.20 765.70h-2.8M428.70 828.50v1.6M321.20 750.00h-1.6M450.20 828.50v2.8M321.20 734.30h-2.8M471.70 828.50v1.6M321.20 718.60h-1.6M493.20 828.50v2.8M321.20 702.90h-2.8M514.70 828.50v1.6M321.20 687.20h-1.6M536.20 828.50v2.8M321.20 671.50h-2.8" stroke="#000" stroke-opacity="0.6" stroke-width="1.2" fill="none"/><path d="M320.70 671.60H536.80M320.70 828.50H536.80" stroke="#000" stroke-opacity="0.6" stroke-width="1.3" fill="none"/><path d="M321.40 671.00V829.00M536.30 671.00V829.00" stroke="#000" stroke-opacity="0.58" stroke-width="1.5" fill="none"/><g font-size="10.20" fill="#111" style="stroke-width:.38px"><text x="321.20" y="841.50" text-anchor="middle">0.0</text><text x="316.80" y="832.30" text-anchor="end">0.0</text><text x="364.20" y="841.50" text-anchor="middle">0.2</text><text x="316.80" y="800.90" text-anchor="end">0.2</text><text x="407.20" y="841.50" text-anchor="middle">0.4</text><text x="316.80" y="769.50" text-anchor="end">0.4</text><text x="450.20" y="841.50" text-anchor="middle">0.6</text><text x="316.80" y="738.10" text-anchor="end">0.6</text><text x="493.20" y="841.50" text-anchor="middle">0.8</text><text x="316.80" y="706.70" text-anchor="end">0.8</text><text x="536.20" y="841.50" text-anchor="middle">1.0</text><text x="316.80" y="675.30" text-anchor="end">1.0</text></g>
<text x="345.39" y="668.50" font-style="italic" font-size="14.27" fill="#111">Xanthoceras sorbifolium</text><text fill="#111"><tspan x="395.20" y="855.40" font-size="12.0">G</tspan><tspan x="405.40" y="857.70" font-size="12.2">3</tspan><tspan x="411.80" y="855.40" font-size="12.0">/</tspan><tspan x="415.70" y="856.00" font-size="9.6">(</tspan><tspan x="419.80" y="855.40" font-size="12.0">G</tspan><tspan x="428.30" y="857.70" font-size="12.2">3</tspan><tspan x="435.80" y="855.40" font-size="12.8">+</tspan><tspan x="443.40" y="855.40" font-size="12.0">C</tspan><tspan x="452.40" y="857.70" font-size="12.2">3</tspan><tspan x="459.60" y="856.00" font-size="9.6">)</tspan></text><text transform="translate(295.90 780.80) rotate(-90)" fill="#111"><tspan x="0.00" y="0.00" font-size="12.0">A</tspan><tspan x="7.40" y="1.70" font-size="12.2">3</tspan><tspan x="15.00" y="0.00" font-size="12.0">/</tspan><tspan x="18.90" y="0.00" font-size="7.5">(</tspan><tspan x="21.60" y="0.00" font-size="12.0">A</tspan><tspan x="29.70" y="1.70" font-size="12.2">3</tspan><tspan x="37.20" y="0.00" font-size="12.0">+</tspan><tspan x="45.50" y="0.00" font-size="12.0">T</tspan><tspan x="53.20" y="1.70" font-size="12.2">3</tspan><tspan x="60.20" y="0.00" font-size="7.5">)</tspan></text>
    </svg></body></html>
